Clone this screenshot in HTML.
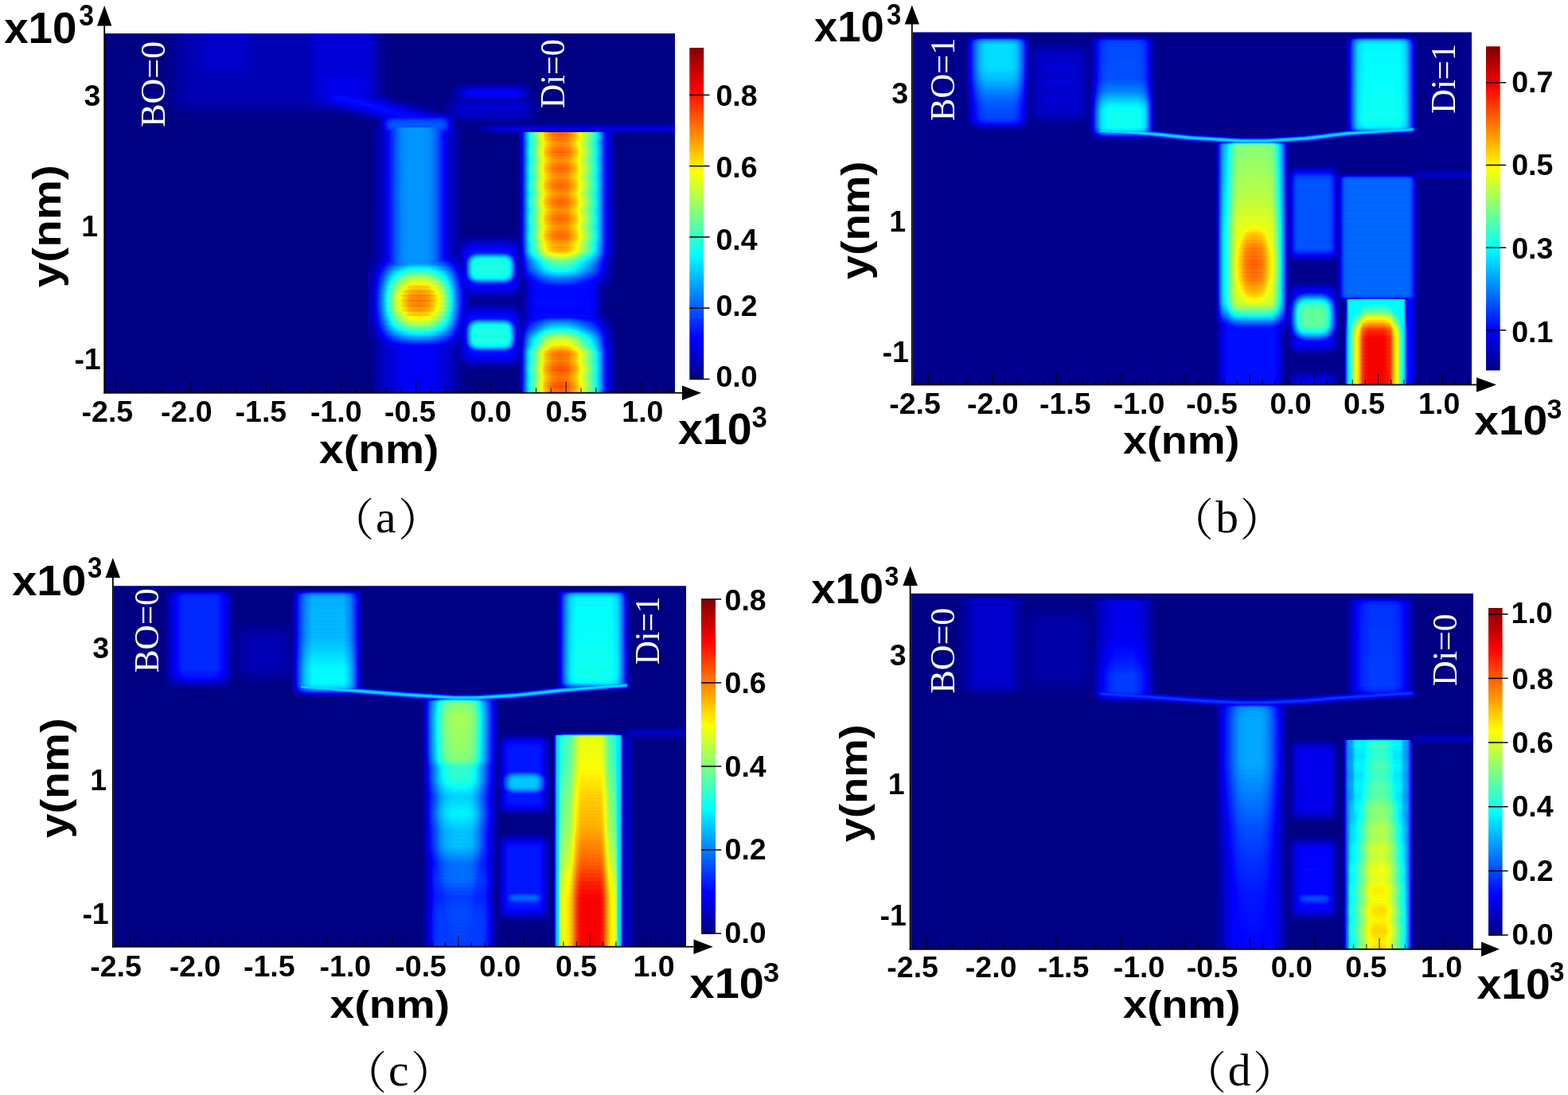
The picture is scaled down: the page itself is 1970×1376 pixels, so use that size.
<!DOCTYPE html>
<html lang="en">
<head>
<meta charset="utf-8">
<title>Field distributions (a)-(d)</title>
<style>
html,body{margin:0;padding:0;background:#fff;}
body{width:1970px;height:1376px;overflow:hidden;}
svg{display:block;}
text{white-space:pre;}
</style>
</head>
<body>
<svg width="1970" height="1376" viewBox="0 0 1970 1376" role="img" aria-label="Field distribution maps (a)-(d)">
<defs>
<filter id="jet" color-interpolation-filters="sRGB" filterUnits="userSpaceOnUse" x="0" y="0" width="1970" height="1376">
<feComponentTransfer>
<feFuncR type="table" tableValues="0 0 0 0 0.5 1 1 1 0.5"/>
<feFuncG type="table" tableValues="0 0 0.5 1 1 1 0.5 0 0"/>
<feFuncB type="table" tableValues="0.51 1 1 1 0.5 0 0 0 0"/>
</feComponentTransfer>
</filter>
<linearGradient id="cbar" x1="0" y1="1" x2="0" y2="0">
<stop offset="0" stop-color="#000082"/><stop offset="0.125" stop-color="#0000ff"/><stop offset="0.25" stop-color="#0080ff"/>
<stop offset="0.375" stop-color="#00ffff"/><stop offset="0.5" stop-color="#80ff80"/><stop offset="0.625" stop-color="#ffff00"/>
<stop offset="0.75" stop-color="#ff8000"/><stop offset="0.875" stop-color="#ff0000"/><stop offset="1" stop-color="#800000"/>
</linearGradient>
<filter id="b0" color-interpolation-filters="sRGB" filterUnits="userSpaceOnUse" x="62" y="-28" width="856" height="592"><feGaussianBlur stdDeviation="12 8"/></filter>
<filter id="b1" color-interpolation-filters="sRGB" filterUnits="userSpaceOnUse" x="62" y="-28" width="856" height="592"><feGaussianBlur stdDeviation="12 12"/></filter>
<filter id="b2" color-interpolation-filters="sRGB" filterUnits="userSpaceOnUse" x="62" y="-28" width="856" height="592"><feGaussianBlur stdDeviation="8 8"/></filter>
<filter id="b3" color-interpolation-filters="sRGB" filterUnits="userSpaceOnUse" x="62" y="-28" width="856" height="592"><feGaussianBlur stdDeviation="10 10"/></filter>
<filter id="b4" color-interpolation-filters="sRGB" filterUnits="userSpaceOnUse" x="62" y="-28" width="856" height="592"><feGaussianBlur stdDeviation="7 7"/></filter>
<filter id="b5" color-interpolation-filters="sRGB" filterUnits="userSpaceOnUse" x="62" y="-28" width="856" height="592"><feGaussianBlur stdDeviation="6 5"/></filter>
<filter id="b6" color-interpolation-filters="sRGB" filterUnits="userSpaceOnUse" x="62" y="-28" width="856" height="592"><feGaussianBlur stdDeviation="8 4"/></filter>
<filter id="b7" color-interpolation-filters="sRGB" filterUnits="userSpaceOnUse" x="62" y="-28" width="856" height="592"><feGaussianBlur stdDeviation="8 6"/></filter>
<filter id="b8" color-interpolation-filters="sRGB" filterUnits="userSpaceOnUse" x="62" y="-28" width="856" height="592"><feGaussianBlur stdDeviation="12 2.5"/></filter>
<filter id="b9" color-interpolation-filters="sRGB" filterUnits="userSpaceOnUse" x="62" y="-28" width="856" height="592"><feGaussianBlur stdDeviation="8 10"/></filter>
<clipPath id="c1"><rect x="132" y="160" width="716" height="334"/></clipPath>
<filter id="b10" color-interpolation-filters="sRGB" filterUnits="userSpaceOnUse" x="62" y="-28" width="856" height="592"><feGaussianBlur stdDeviation="11 8"/></filter>
<filter id="b11" color-interpolation-filters="sRGB" filterUnits="userSpaceOnUse" x="62" y="-28" width="856" height="592"><feGaussianBlur stdDeviation="9 6"/></filter>
<linearGradient id="gx1" gradientUnits="userSpaceOnUse" x1="464.5" y1="0" x2="588.5" y2="0"><stop offset="0.0000" stop-color="rgb(0,0,0)"/><stop offset="0.0484" stop-color="rgb(26,26,26)"/><stop offset="0.0968" stop-color="rgb(51,51,51)"/><stop offset="0.1371" stop-color="rgb(76,76,76)"/><stop offset="0.1935" stop-color="rgb(115,115,115)"/><stop offset="0.2500" stop-color="rgb(148,148,148)"/><stop offset="0.2903" stop-color="rgb(163,163,163)"/><stop offset="0.3306" stop-color="rgb(178,178,178)"/><stop offset="0.4032" stop-color="rgb(199,199,199)"/><stop offset="0.5000" stop-color="rgb(204,204,204)"/><stop offset="0.5968" stop-color="rgb(199,199,199)"/><stop offset="0.6694" stop-color="rgb(178,178,178)"/><stop offset="0.7097" stop-color="rgb(163,163,163)"/><stop offset="0.7500" stop-color="rgb(148,148,148)"/><stop offset="0.8065" stop-color="rgb(115,115,115)"/><stop offset="0.8629" stop-color="rgb(76,76,76)"/><stop offset="0.9032" stop-color="rgb(51,51,51)"/><stop offset="0.9516" stop-color="rgb(26,26,26)"/><stop offset="1.0000" stop-color="rgb(0,0,0)"/></linearGradient>
<linearGradient id="gy1" gradientUnits="userSpaceOnUse" x1="0" y1="313" x2="0" y2="443"><stop offset="0.0000" stop-color="rgb(0,0,0)"/><stop offset="0.0538" stop-color="rgb(31,31,31)"/><stop offset="0.1000" stop-color="rgb(64,64,64)"/><stop offset="0.1462" stop-color="rgb(96,96,96)"/><stop offset="0.2077" stop-color="rgb(140,140,140)"/><stop offset="0.2769" stop-color="rgb(185,185,185)"/><stop offset="0.3154" stop-color="rgb(204,204,204)"/><stop offset="0.3562" stop-color="rgb(223,223,223)"/><stop offset="0.4231" stop-color="rgb(247,247,247)"/><stop offset="0.5000" stop-color="rgb(255,255,255)"/><stop offset="0.5769" stop-color="rgb(247,247,247)"/><stop offset="0.6438" stop-color="rgb(223,223,223)"/><stop offset="0.6846" stop-color="rgb(204,204,204)"/><stop offset="0.7231" stop-color="rgb(185,185,185)"/><stop offset="0.7923" stop-color="rgb(140,140,140)"/><stop offset="0.8538" stop-color="rgb(96,96,96)"/><stop offset="0.9000" stop-color="rgb(64,64,64)"/><stop offset="0.9462" stop-color="rgb(31,31,31)"/><stop offset="1.0000" stop-color="rgb(0,0,0)"/></linearGradient>
<filter id="b12" color-interpolation-filters="sRGB" filterUnits="userSpaceOnUse" x="62" y="-28" width="856" height="592"><feGaussianBlur stdDeviation="1.5 1.5"/></filter>
<filter id="b13" color-interpolation-filters="sRGB" filterUnits="userSpaceOnUse" x="62" y="-28" width="856" height="592"><feGaussianBlur stdDeviation="4.5 4.5"/></filter>
<filter id="b14" color-interpolation-filters="sRGB" filterUnits="userSpaceOnUse" x="62" y="-28" width="856" height="592"><feGaussianBlur stdDeviation="6 6"/></filter>
<linearGradient id="gx2" gradientUnits="userSpaceOnUse" x1="652" y1="0" x2="775" y2="0"><stop offset="0.0000" stop-color="rgb(0,0,0)"/><stop offset="0.0325" stop-color="rgb(31,31,31)"/><stop offset="0.0650" stop-color="rgb(64,64,64)"/><stop offset="0.1016" stop-color="rgb(97,97,97)"/><stop offset="0.1626" stop-color="rgb(128,128,128)"/><stop offset="0.2276" stop-color="rgb(158,158,158)"/><stop offset="0.2602" stop-color="rgb(178,178,178)"/><stop offset="0.3415" stop-color="rgb(199,199,199)"/><stop offset="0.4268" stop-color="rgb(204,204,204)"/><stop offset="0.5122" stop-color="rgb(199,199,199)"/><stop offset="0.5894" stop-color="rgb(178,178,178)"/><stop offset="0.6382" stop-color="rgb(158,158,158)"/><stop offset="0.7154" stop-color="rgb(133,133,133)"/><stop offset="0.7764" stop-color="rgb(107,107,107)"/><stop offset="0.8374" stop-color="rgb(71,71,71)"/><stop offset="0.8780" stop-color="rgb(38,38,38)"/><stop offset="0.9512" stop-color="rgb(13,13,13)"/><stop offset="1.0000" stop-color="rgb(0,0,0)"/></linearGradient>
<linearGradient id="gy2" gradientUnits="userSpaceOnUse" x1="0" y1="120" x2="0" y2="378"><stop offset="0.0000" stop-color="rgb(255,255,255)"/><stop offset="0.6977" stop-color="rgb(255,255,255)"/><stop offset="0.7364" stop-color="rgb(247,247,247)"/><stop offset="0.7597" stop-color="rgb(232,232,232)"/><stop offset="0.7829" stop-color="rgb(200,200,200)"/><stop offset="0.8140" stop-color="rgb(161,161,161)"/><stop offset="0.8605" stop-color="rgb(122,122,122)"/><stop offset="0.8953" stop-color="rgb(82,82,82)"/><stop offset="0.9264" stop-color="rgb(48,48,48)"/><stop offset="0.9690" stop-color="rgb(15,15,15)"/><stop offset="1.0000" stop-color="rgb(0,0,0)"/></linearGradient>
<clipPath id="c2"><rect x="132" y="166" width="716" height="328"/></clipPath>
<linearGradient id="gx3" gradientUnits="userSpaceOnUse" x1="652" y1="0" x2="775" y2="0"><stop offset="0.0000" stop-color="rgb(0,0,0)"/><stop offset="0.0325" stop-color="rgb(32,32,32)"/><stop offset="0.0650" stop-color="rgb(66,66,66)"/><stop offset="0.1016" stop-color="rgb(100,100,100)"/><stop offset="0.1626" stop-color="rgb(131,131,131)"/><stop offset="0.2276" stop-color="rgb(163,163,163)"/><stop offset="0.2602" stop-color="rgb(184,184,184)"/><stop offset="0.3415" stop-color="rgb(205,205,205)"/><stop offset="0.4268" stop-color="rgb(210,210,210)"/><stop offset="0.5122" stop-color="rgb(205,205,205)"/><stop offset="0.5894" stop-color="rgb(184,184,184)"/><stop offset="0.6382" stop-color="rgb(163,163,163)"/><stop offset="0.7154" stop-color="rgb(137,137,137)"/><stop offset="0.7764" stop-color="rgb(110,110,110)"/><stop offset="0.8374" stop-color="rgb(74,74,74)"/><stop offset="0.8780" stop-color="rgb(39,39,39)"/><stop offset="0.9512" stop-color="rgb(13,13,13)"/><stop offset="1.0000" stop-color="rgb(0,0,0)"/></linearGradient>
<linearGradient id="gy3" gradientUnits="userSpaceOnUse" x1="0" y1="393" x2="0" y2="540"><stop offset="0.0000" stop-color="rgb(0,0,0)"/><stop offset="0.0680" stop-color="rgb(76,76,76)"/><stop offset="0.1293" stop-color="rgb(120,120,120)"/><stop offset="0.1837" stop-color="rgb(158,158,158)"/><stop offset="0.2313" stop-color="rgb(196,196,196)"/><stop offset="0.2993" stop-color="rgb(227,227,227)"/><stop offset="0.3537" stop-color="rgb(250,250,250)"/><stop offset="0.4014" stop-color="rgb(255,255,255)"/><stop offset="1.0000" stop-color="rgb(255,255,255)"/></linearGradient>
<linearGradient id="md4" gradientUnits="userSpaceOnUse" spreadMethod="repeat" x1="0" y1="170" x2="0" y2="191"><stop offset="0" stop-color="#000" stop-opacity="0"/><stop offset="0.5" stop-color="#000" stop-opacity="0.06"/><stop offset="1" stop-color="#000" stop-opacity="0"/></linearGradient>
<filter id="b15" color-interpolation-filters="sRGB" filterUnits="userSpaceOnUse" x="62" y="-28" width="856" height="592"><feGaussianBlur stdDeviation="0 1.5"/></filter>
<linearGradient id="md5" gradientUnits="userSpaceOnUse" spreadMethod="repeat" x1="0" y1="330" x2="0" y2="336"><stop offset="0" stop-color="#000" stop-opacity="0"/><stop offset="0.5" stop-color="#000" stop-opacity="0.05"/><stop offset="1" stop-color="#000" stop-opacity="0"/></linearGradient>
<clipPath id="c3"><rect x="132" y="42" width="716" height="452"/></clipPath>
<pattern id="st6" patternUnits="userSpaceOnUse" x="0" y="42" width="8" height="2.5"><rect x="0" y="0" width="8" height="1.25" fill="#000" fill-opacity="0.045"/></pattern>
<linearGradient id="gx7" gradientUnits="userSpaceOnUse" x1="1213" y1="0" x2="1295" y2="0"><stop offset="0.0000" stop-color="rgb(0,0,0)"/><stop offset="0.0610" stop-color="rgb(26,26,26)"/><stop offset="0.1341" stop-color="rgb(56,56,56)"/><stop offset="0.2317" stop-color="rgb(82,82,82)"/><stop offset="0.3293" stop-color="rgb(89,89,89)"/><stop offset="0.6951" stop-color="rgb(89,89,89)"/><stop offset="0.7927" stop-color="rgb(82,82,82)"/><stop offset="0.8780" stop-color="rgb(56,56,56)"/><stop offset="0.9390" stop-color="rgb(26,26,26)"/><stop offset="1.0000" stop-color="rgb(0,0,0)"/></linearGradient>
<linearGradient id="gy7" gradientUnits="userSpaceOnUse" x1="0" y1="46" x2="0" y2="164"><stop offset="0.0000" stop-color="rgb(0,0,0)"/><stop offset="0.0339" stop-color="rgb(204,204,204)"/><stop offset="0.0847" stop-color="rgb(255,255,255)"/><stop offset="0.3305" stop-color="rgb(255,255,255)"/><stop offset="0.4576" stop-color="rgb(230,230,230)"/><stop offset="0.5847" stop-color="rgb(191,191,191)"/><stop offset="0.7119" stop-color="rgb(158,158,158)"/><stop offset="0.8814" stop-color="rgb(140,140,140)"/><stop offset="0.9322" stop-color="rgb(102,102,102)"/><stop offset="0.9661" stop-color="rgb(38,38,38)"/><stop offset="1.0000" stop-color="rgb(0,0,0)"/></linearGradient>
<filter id="b16" color-interpolation-filters="sRGB" filterUnits="userSpaceOnUse" x="1076.8" y="-29.6" width="842.2" height="583.1"><feGaussianBlur stdDeviation="1.5 1.5"/></filter>
<filter id="b17" color-interpolation-filters="sRGB" filterUnits="userSpaceOnUse" x="1076.8" y="-29.6" width="842.2" height="583.1"><feGaussianBlur stdDeviation="8 8"/></filter>
<filter id="b18" color-interpolation-filters="sRGB" filterUnits="userSpaceOnUse" x="1076.8" y="-29.6" width="842.2" height="583.1"><feGaussianBlur stdDeviation="6 2.5"/></filter>
<linearGradient id="gx8" gradientUnits="userSpaceOnUse" x1="1368" y1="0" x2="1452" y2="0"><stop offset="0.0000" stop-color="rgb(0,0,0)"/><stop offset="0.0595" stop-color="rgb(26,26,26)"/><stop offset="0.1190" stop-color="rgb(64,64,64)"/><stop offset="0.1905" stop-color="rgb(92,92,92)"/><stop offset="0.2857" stop-color="rgb(102,102,102)"/><stop offset="0.7381" stop-color="rgb(102,102,102)"/><stop offset="0.8333" stop-color="rgb(92,92,92)"/><stop offset="0.8929" stop-color="rgb(64,64,64)"/><stop offset="0.9405" stop-color="rgb(26,26,26)"/><stop offset="1.0000" stop-color="rgb(0,0,0)"/></linearGradient>
<linearGradient id="gy8" gradientUnits="userSpaceOnUse" x1="0" y1="46" x2="0" y2="175"><stop offset="0.0000" stop-color="rgb(0,0,0)"/><stop offset="0.0310" stop-color="rgb(115,115,115)"/><stop offset="0.0775" stop-color="rgb(128,128,128)"/><stop offset="0.4186" stop-color="rgb(133,133,133)"/><stop offset="0.5349" stop-color="rgb(166,166,166)"/><stop offset="0.6512" stop-color="rgb(230,230,230)"/><stop offset="0.7287" stop-color="rgb(255,255,255)"/><stop offset="0.8837" stop-color="rgb(255,255,255)"/><stop offset="0.9302" stop-color="rgb(204,204,204)"/><stop offset="0.9612" stop-color="rgb(102,102,102)"/><stop offset="1.0000" stop-color="rgb(0,0,0)"/></linearGradient>
<filter id="b19" color-interpolation-filters="sRGB" filterUnits="userSpaceOnUse" x="1076.8" y="-29.6" width="842.2" height="583.1"><feGaussianBlur stdDeviation="1.8 1.8"/></filter>
<linearGradient id="gx9" gradientUnits="userSpaceOnUse" x1="1690" y1="0" x2="1781" y2="0"><stop offset="0.0000" stop-color="rgb(0,0,0)"/><stop offset="0.0549" stop-color="rgb(26,26,26)"/><stop offset="0.1099" stop-color="rgb(64,64,64)"/><stop offset="0.1758" stop-color="rgb(92,92,92)"/><stop offset="0.2637" stop-color="rgb(102,102,102)"/><stop offset="0.7473" stop-color="rgb(102,102,102)"/><stop offset="0.8352" stop-color="rgb(92,92,92)"/><stop offset="0.8901" stop-color="rgb(64,64,64)"/><stop offset="0.9451" stop-color="rgb(26,26,26)"/><stop offset="1.0000" stop-color="rgb(0,0,0)"/></linearGradient>
<linearGradient id="gy9" gradientUnits="userSpaceOnUse" x1="0" y1="46" x2="0" y2="169"><stop offset="0.0000" stop-color="rgb(0,0,0)"/><stop offset="0.0325" stop-color="rgb(204,204,204)"/><stop offset="0.0813" stop-color="rgb(242,242,242)"/><stop offset="0.8455" stop-color="rgb(255,255,255)"/><stop offset="0.9268" stop-color="rgb(242,242,242)"/><stop offset="0.9675" stop-color="rgb(153,153,153)"/><stop offset="1.0000" stop-color="rgb(0,0,0)"/></linearGradient>
<filter id="b20" color-interpolation-filters="sRGB" filterUnits="userSpaceOnUse" x="1076.8" y="-29.6" width="842.2" height="583.1"><feGaussianBlur stdDeviation="5 5"/></filter>
<linearGradient id="gx10" gradientUnits="userSpaceOnUse" x1="1527" y1="0" x2="1620" y2="0"><stop offset="0.0000" stop-color="rgb(0,0,0)"/><stop offset="0.0430" stop-color="rgb(38,38,38)"/><stop offset="0.0860" stop-color="rgb(84,84,84)"/><stop offset="0.1505" stop-color="rgb(102,102,102)"/><stop offset="0.2043" stop-color="rgb(128,128,128)"/><stop offset="0.2688" stop-color="rgb(153,153,153)"/><stop offset="0.3548" stop-color="rgb(158,158,158)"/><stop offset="0.6882" stop-color="rgb(158,158,158)"/><stop offset="0.7742" stop-color="rgb(153,153,153)"/><stop offset="0.8280" stop-color="rgb(128,128,128)"/><stop offset="0.8710" stop-color="rgb(102,102,102)"/><stop offset="0.9140" stop-color="rgb(76,76,76)"/><stop offset="0.9570" stop-color="rgb(33,33,33)"/><stop offset="1.0000" stop-color="rgb(0,0,0)"/></linearGradient>
<linearGradient id="gy10" gradientUnits="userSpaceOnUse" x1="0" y1="178.5" x2="0" y2="425"><stop offset="0.0000" stop-color="rgb(0,0,0)"/><stop offset="0.0081" stop-color="rgb(214,214,214)"/><stop offset="0.0872" stop-color="rgb(219,219,219)"/><stop offset="0.2901" stop-color="rgb(235,235,235)"/><stop offset="0.4523" stop-color="rgb(255,255,255)"/><stop offset="0.7769" stop-color="rgb(255,255,255)"/><stop offset="0.8256" stop-color="rgb(242,242,242)"/><stop offset="0.8580" stop-color="rgb(204,204,204)"/><stop offset="0.8905" stop-color="rgb(153,153,153)"/><stop offset="0.9229" stop-color="rgb(89,89,89)"/><stop offset="0.9554" stop-color="rgb(51,51,51)"/><stop offset="1.0000" stop-color="rgb(0,0,0)"/></linearGradient>
<linearGradient id="gx11" gradientUnits="userSpaceOnUse" x1="1533.6" y1="0" x2="1617.6" y2="0"><stop offset="0.0000" stop-color="rgb(0,0,0)"/><stop offset="0.0714" stop-color="rgb(76,76,76)"/><stop offset="0.1429" stop-color="rgb(128,128,128)"/><stop offset="0.2143" stop-color="rgb(158,158,158)"/><stop offset="0.2917" stop-color="rgb(178,178,178)"/><stop offset="0.3810" stop-color="rgb(199,199,199)"/><stop offset="0.5000" stop-color="rgb(204,204,204)"/><stop offset="0.6190" stop-color="rgb(199,199,199)"/><stop offset="0.7083" stop-color="rgb(178,178,178)"/><stop offset="0.7857" stop-color="rgb(158,158,158)"/><stop offset="0.8571" stop-color="rgb(128,128,128)"/><stop offset="0.9286" stop-color="rgb(76,76,76)"/><stop offset="1.0000" stop-color="rgb(0,0,0)"/></linearGradient>
<linearGradient id="gy11" gradientUnits="userSpaceOnUse" x1="0" y1="252" x2="0" y2="412"><stop offset="0.0000" stop-color="rgb(0,0,0)"/><stop offset="0.0750" stop-color="rgb(102,102,102)"/><stop offset="0.1375" stop-color="rgb(153,153,153)"/><stop offset="0.2000" stop-color="rgb(199,199,199)"/><stop offset="0.2687" stop-color="rgb(223,223,223)"/><stop offset="0.3750" stop-color="rgb(247,247,247)"/><stop offset="0.5000" stop-color="rgb(255,255,255)"/><stop offset="0.6250" stop-color="rgb(247,247,247)"/><stop offset="0.7312" stop-color="rgb(223,223,223)"/><stop offset="0.8000" stop-color="rgb(199,199,199)"/><stop offset="0.8625" stop-color="rgb(153,153,153)"/><stop offset="0.9250" stop-color="rgb(102,102,102)"/><stop offset="1.0000" stop-color="rgb(0,0,0)"/></linearGradient>
<filter id="b21" color-interpolation-filters="sRGB" filterUnits="userSpaceOnUse" x="1076.8" y="-29.6" width="842.2" height="583.1"><feGaussianBlur stdDeviation="4 6"/></filter>
<filter id="b22" color-interpolation-filters="sRGB" filterUnits="userSpaceOnUse" x="1076.8" y="-29.6" width="842.2" height="583.1"><feGaussianBlur stdDeviation="6 8"/></filter>
<filter id="b23" color-interpolation-filters="sRGB" filterUnits="userSpaceOnUse" x="1076.8" y="-29.6" width="842.2" height="583.1"><feGaussianBlur stdDeviation="3.5 2"/></filter>
<filter id="b24" color-interpolation-filters="sRGB" filterUnits="userSpaceOnUse" x="1076.8" y="-29.6" width="842.2" height="583.1"><feGaussianBlur stdDeviation="2.5 2.5"/></filter>
<filter id="b25" color-interpolation-filters="sRGB" filterUnits="userSpaceOnUse" x="1076.8" y="-29.6" width="842.2" height="583.1"><feGaussianBlur stdDeviation="8 3"/></filter>
<clipPath id="c4"><rect x="1147" y="376" width="702" height="107.5"/></clipPath>
<linearGradient id="gx12" gradientUnits="userSpaceOnUse" x1="1689" y1="0" x2="1769" y2="0"><stop offset="0.0000" stop-color="rgb(0,0,0)"/><stop offset="0.0375" stop-color="rgb(76,76,76)"/><stop offset="0.1000" stop-color="rgb(97,97,97)"/><stop offset="0.1250" stop-color="rgb(140,140,140)"/><stop offset="0.1750" stop-color="rgb(158,158,158)"/><stop offset="0.2500" stop-color="rgb(184,184,184)"/><stop offset="0.2812" stop-color="rgb(217,217,217)"/><stop offset="0.3875" stop-color="rgb(230,230,230)"/><stop offset="0.6125" stop-color="rgb(230,230,230)"/><stop offset="0.7250" stop-color="rgb(217,217,217)"/><stop offset="0.7625" stop-color="rgb(184,184,184)"/><stop offset="0.8375" stop-color="rgb(158,158,158)"/><stop offset="0.9000" stop-color="rgb(107,107,107)"/><stop offset="0.9625" stop-color="rgb(76,76,76)"/><stop offset="1.0000" stop-color="rgb(0,0,0)"/></linearGradient>
<linearGradient id="gy12" gradientUnits="userSpaceOnUse" x1="0" y1="375.5" x2="0" y2="500"><stop offset="0.0000" stop-color="rgb(0,0,0)"/><stop offset="0.0080" stop-color="rgb(99,99,99)"/><stop offset="0.0257" stop-color="rgb(99,99,99)"/><stop offset="0.1285" stop-color="rgb(135,135,135)"/><stop offset="0.1807" stop-color="rgb(171,171,171)"/><stop offset="0.2450" stop-color="rgb(204,204,204)"/><stop offset="0.3092" stop-color="rgb(240,240,240)"/><stop offset="0.3976" stop-color="rgb(255,255,255)"/><stop offset="1.0000" stop-color="rgb(255,255,255)"/></linearGradient>
<filter id="b26" color-interpolation-filters="sRGB" filterUnits="userSpaceOnUse" x="1076.8" y="-29.6" width="842.2" height="583.1"><feGaussianBlur stdDeviation="1.2 1.2"/></filter>
<clipPath id="c5"><rect x="1146.8" y="40.4" width="702.2" height="443.1"/></clipPath>
<pattern id="st13" patternUnits="userSpaceOnUse" x="0" y="40.4" width="8" height="2.5"><rect x="0" y="0" width="8" height="1.25" fill="#000" fill-opacity="0.045"/></pattern>
<linearGradient id="gx14" gradientUnits="userSpaceOnUse" x1="206" y1="0" x2="295" y2="0"><stop offset="0.0000" stop-color="rgb(0,0,0)"/><stop offset="0.0674" stop-color="rgb(15,15,15)"/><stop offset="0.1573" stop-color="rgb(31,31,31)"/><stop offset="0.2697" stop-color="rgb(43,43,43)"/><stop offset="0.7416" stop-color="rgb(43,43,43)"/><stop offset="0.8539" stop-color="rgb(31,31,31)"/><stop offset="0.9326" stop-color="rgb(15,15,15)"/><stop offset="1.0000" stop-color="rgb(0,0,0)"/></linearGradient>
<linearGradient id="gy14" gradientUnits="userSpaceOnUse" x1="0" y1="742" x2="0" y2="866"><stop offset="0.0000" stop-color="rgb(0,0,0)"/><stop offset="0.0323" stop-color="rgb(230,230,230)"/><stop offset="0.0806" stop-color="rgb(255,255,255)"/><stop offset="0.7903" stop-color="rgb(255,255,255)"/><stop offset="0.8871" stop-color="rgb(204,204,204)"/><stop offset="0.9516" stop-color="rgb(76,76,76)"/><stop offset="1.0000" stop-color="rgb(0,0,0)"/></linearGradient>
<filter id="b27" color-interpolation-filters="sRGB" filterUnits="userSpaceOnUse" x="72.6" y="666.3" width="859.4" height="593.7"><feGaussianBlur stdDeviation="1.5 1.5"/></filter>
<filter id="b28" color-interpolation-filters="sRGB" filterUnits="userSpaceOnUse" x="72.6" y="666.3" width="859.4" height="593.7"><feGaussianBlur stdDeviation="8 8"/></filter>
<linearGradient id="gx15" gradientUnits="userSpaceOnUse" x1="366" y1="0" x2="456" y2="0"><stop offset="0.0000" stop-color="rgb(0,0,0)"/><stop offset="0.0556" stop-color="rgb(26,26,26)"/><stop offset="0.1111" stop-color="rgb(56,56,56)"/><stop offset="0.1889" stop-color="rgb(82,82,82)"/><stop offset="0.2889" stop-color="rgb(97,97,97)"/><stop offset="0.7333" stop-color="rgb(97,97,97)"/><stop offset="0.8222" stop-color="rgb(82,82,82)"/><stop offset="0.8889" stop-color="rgb(56,56,56)"/><stop offset="0.9444" stop-color="rgb(26,26,26)"/><stop offset="1.0000" stop-color="rgb(0,0,0)"/></linearGradient>
<linearGradient id="gy15" gradientUnits="userSpaceOnUse" x1="0" y1="742" x2="0" y2="875"><stop offset="0.0000" stop-color="rgb(0,0,0)"/><stop offset="0.0301" stop-color="rgb(178,178,178)"/><stop offset="0.0752" stop-color="rgb(204,204,204)"/><stop offset="0.4361" stop-color="rgb(209,209,209)"/><stop offset="0.5865" stop-color="rgb(230,230,230)"/><stop offset="0.7368" stop-color="rgb(255,255,255)"/><stop offset="0.8872" stop-color="rgb(255,255,255)"/><stop offset="0.9323" stop-color="rgb(204,204,204)"/><stop offset="0.9624" stop-color="rgb(102,102,102)"/><stop offset="1.0000" stop-color="rgb(0,0,0)"/></linearGradient>
<filter id="b29" color-interpolation-filters="sRGB" filterUnits="userSpaceOnUse" x="72.6" y="666.3" width="859.4" height="593.7"><feGaussianBlur stdDeviation="1.8 1.8"/></filter>
<linearGradient id="gx16" gradientUnits="userSpaceOnUse" x1="699" y1="0" x2="792" y2="0"><stop offset="0.0000" stop-color="rgb(0,0,0)"/><stop offset="0.0538" stop-color="rgb(26,26,26)"/><stop offset="0.1075" stop-color="rgb(64,64,64)"/><stop offset="0.1828" stop-color="rgb(92,92,92)"/><stop offset="0.2688" stop-color="rgb(102,102,102)"/><stop offset="0.7419" stop-color="rgb(102,102,102)"/><stop offset="0.8280" stop-color="rgb(92,92,92)"/><stop offset="0.8925" stop-color="rgb(64,64,64)"/><stop offset="0.9462" stop-color="rgb(26,26,26)"/><stop offset="1.0000" stop-color="rgb(0,0,0)"/></linearGradient>
<linearGradient id="gy16" gradientUnits="userSpaceOnUse" x1="0" y1="742" x2="0" y2="867"><stop offset="0.0000" stop-color="rgb(0,0,0)"/><stop offset="0.0320" stop-color="rgb(204,204,204)"/><stop offset="0.0800" stop-color="rgb(242,242,242)"/><stop offset="0.8640" stop-color="rgb(255,255,255)"/><stop offset="0.9280" stop-color="rgb(242,242,242)"/><stop offset="0.9680" stop-color="rgb(153,153,153)"/><stop offset="1.0000" stop-color="rgb(0,0,0)"/></linearGradient>
<filter id="b30" color-interpolation-filters="sRGB" filterUnits="userSpaceOnUse" x="72.6" y="666.3" width="859.4" height="593.7"><feGaussianBlur stdDeviation="6 6"/></filter>
<clipPath id="c6"><rect x="142" y="879" width="720" height="310.5"/></clipPath>
<linearGradient id="gx17" gradientUnits="userSpaceOnUse" x1="531" y1="0" x2="628" y2="0"><stop offset="0.0000" stop-color="rgb(0,0,0)"/><stop offset="0.0515" stop-color="rgb(31,31,31)"/><stop offset="0.1031" stop-color="rgb(64,64,64)"/><stop offset="0.1649" stop-color="rgb(89,89,89)"/><stop offset="0.2268" stop-color="rgb(115,115,115)"/><stop offset="0.2990" stop-color="rgb(133,133,133)"/><stop offset="0.4021" stop-color="rgb(140,140,140)"/><stop offset="0.5567" stop-color="rgb(140,140,140)"/><stop offset="0.6495" stop-color="rgb(133,133,133)"/><stop offset="0.7113" stop-color="rgb(115,115,115)"/><stop offset="0.7732" stop-color="rgb(89,89,89)"/><stop offset="0.8351" stop-color="rgb(64,64,64)"/><stop offset="0.8969" stop-color="rgb(38,38,38)"/><stop offset="0.9588" stop-color="rgb(13,13,13)"/><stop offset="1.0000" stop-color="rgb(0,0,0)"/></linearGradient>
<linearGradient id="gy17" gradientUnits="userSpaceOnUse" x1="0" y1="878" x2="0" y2="1200"><stop offset="0.0000" stop-color="rgb(0,0,0)"/><stop offset="0.0062" stop-color="rgb(230,230,230)"/><stop offset="0.0683" stop-color="rgb(255,255,255)"/><stop offset="0.2236" stop-color="rgb(242,242,242)"/><stop offset="0.3012" stop-color="rgb(204,204,204)"/><stop offset="0.3789" stop-color="rgb(178,178,178)"/><stop offset="0.5031" stop-color="rgb(173,173,173)"/><stop offset="0.5652" stop-color="rgb(153,153,153)"/><stop offset="0.6584" stop-color="rgb(122,122,122)"/><stop offset="0.7516" stop-color="rgb(102,102,102)"/><stop offset="0.8758" stop-color="rgb(92,92,92)"/><stop offset="1.0000" stop-color="rgb(87,87,87)"/></linearGradient>
<filter id="b31" color-interpolation-filters="sRGB" filterUnits="userSpaceOnUse" x="72.6" y="666.3" width="859.4" height="593.7"><feGaussianBlur stdDeviation="4 5"/></filter>
<filter id="b32" color-interpolation-filters="sRGB" filterUnits="userSpaceOnUse" x="72.6" y="666.3" width="859.4" height="593.7"><feGaussianBlur stdDeviation="6 5"/></filter>
<filter id="b33" color-interpolation-filters="sRGB" filterUnits="userSpaceOnUse" x="72.6" y="666.3" width="859.4" height="593.7"><feGaussianBlur stdDeviation="4 6"/></filter>
<filter id="b34" color-interpolation-filters="sRGB" filterUnits="userSpaceOnUse" x="72.6" y="666.3" width="859.4" height="593.7"><feGaussianBlur stdDeviation="6 4"/></filter>
<filter id="b35" color-interpolation-filters="sRGB" filterUnits="userSpaceOnUse" x="72.6" y="666.3" width="859.4" height="593.7"><feGaussianBlur stdDeviation="8 3"/></filter>
<clipPath id="c7"><rect x="142" y="923.5" width="720" height="266"/></clipPath>
<filter id="b36" color-interpolation-filters="sRGB" filterUnits="userSpaceOnUse" x="72.6" y="666.3" width="859.4" height="593.7"><feGaussianBlur stdDeviation="3 3"/></filter>
<linearGradient id="gx18" gradientUnits="userSpaceOnUse" x1="700" y1="0" x2="778" y2="0"><stop offset="0.0000" stop-color="rgb(0,0,0)"/><stop offset="0.0256" stop-color="rgb(128,128,128)"/><stop offset="0.0577" stop-color="rgb(158,158,158)"/><stop offset="0.2051" stop-color="rgb(173,173,173)"/><stop offset="0.2564" stop-color="rgb(191,191,191)"/><stop offset="0.3205" stop-color="rgb(217,217,217)"/><stop offset="0.3846" stop-color="rgb(230,230,230)"/><stop offset="0.6795" stop-color="rgb(230,230,230)"/><stop offset="0.7538" stop-color="rgb(217,217,217)"/><stop offset="0.7949" stop-color="rgb(191,191,191)"/><stop offset="0.8333" stop-color="rgb(173,173,173)"/><stop offset="0.9359" stop-color="rgb(158,158,158)"/><stop offset="0.9744" stop-color="rgb(128,128,128)"/><stop offset="1.0000" stop-color="rgb(0,0,0)"/></linearGradient>
<linearGradient id="gy18" gradientUnits="userSpaceOnUse" x1="0" y1="923" x2="0" y2="1200"><stop offset="0.0000" stop-color="rgb(0,0,0)"/><stop offset="0.0036" stop-color="rgb(173,173,173)"/><stop offset="0.1336" stop-color="rgb(178,178,178)"/><stop offset="0.2780" stop-color="rgb(194,194,194)"/><stop offset="0.4224" stop-color="rgb(204,204,204)"/><stop offset="0.5668" stop-color="rgb(224,224,224)"/><stop offset="0.6751" stop-color="rgb(245,245,245)"/><stop offset="0.7473" stop-color="rgb(255,255,255)"/><stop offset="1.0000" stop-color="rgb(255,255,255)"/></linearGradient>
<filter id="b37" color-interpolation-filters="sRGB" filterUnits="userSpaceOnUse" x="72.6" y="666.3" width="859.4" height="593.7"><feGaussianBlur stdDeviation="1.2 1.2"/></filter>
<linearGradient id="md19" gradientUnits="userSpaceOnUse" spreadMethod="repeat" x1="0" y1="980" x2="0" y2="1022"><stop offset="0" stop-color="#000" stop-opacity="0"/><stop offset="0.5" stop-color="#000" stop-opacity="0.12"/><stop offset="1" stop-color="#000" stop-opacity="0"/></linearGradient>
<filter id="b38" color-interpolation-filters="sRGB" filterUnits="userSpaceOnUse" x="72.6" y="666.3" width="859.4" height="593.7"><feGaussianBlur stdDeviation="0 2"/></filter>
<clipPath id="c8"><rect x="142.6" y="736.3" width="719.4" height="453.7"/></clipPath>
<pattern id="st20" patternUnits="userSpaceOnUse" x="0" y="736.3" width="8" height="2.5"><rect x="0" y="0" width="8" height="1.25" fill="#000" fill-opacity="0.045"/></pattern>
<filter id="b39" color-interpolation-filters="sRGB" filterUnits="userSpaceOnUse" x="1074.4" y="675.7" width="846.6" height="587.1"><feGaussianBlur stdDeviation="9 5"/></filter>
<clipPath id="c9"><rect x="1144" y="752" width="707" height="441"/></clipPath>
<filter id="b40" color-interpolation-filters="sRGB" filterUnits="userSpaceOnUse" x="1074.4" y="675.7" width="846.6" height="587.1"><feGaussianBlur stdDeviation="10 10"/></filter>
<linearGradient id="gx21" gradientUnits="userSpaceOnUse" x1="1369" y1="0" x2="1454" y2="0"><stop offset="0.0000" stop-color="rgb(0,0,0)"/><stop offset="0.0706" stop-color="rgb(10,10,10)"/><stop offset="0.1529" stop-color="rgb(26,26,26)"/><stop offset="0.2706" stop-color="rgb(41,41,41)"/><stop offset="0.3882" stop-color="rgb(48,48,48)"/><stop offset="0.6471" stop-color="rgb(48,48,48)"/><stop offset="0.7647" stop-color="rgb(41,41,41)"/><stop offset="0.8588" stop-color="rgb(26,26,26)"/><stop offset="0.9294" stop-color="rgb(10,10,10)"/><stop offset="1.0000" stop-color="rgb(0,0,0)"/></linearGradient>
<linearGradient id="gy21" gradientUnits="userSpaceOnUse" x1="0" y1="751" x2="0" y2="884"><stop offset="0.0000" stop-color="rgb(0,0,0)"/><stop offset="0.0301" stop-color="rgb(140,140,140)"/><stop offset="0.3684" stop-color="rgb(153,153,153)"/><stop offset="0.5940" stop-color="rgb(204,204,204)"/><stop offset="0.7444" stop-color="rgb(255,255,255)"/><stop offset="0.8797" stop-color="rgb(255,255,255)"/><stop offset="0.9248" stop-color="rgb(204,204,204)"/><stop offset="0.9624" stop-color="rgb(102,102,102)"/><stop offset="1.0000" stop-color="rgb(0,0,0)"/></linearGradient>
<filter id="b41" color-interpolation-filters="sRGB" filterUnits="userSpaceOnUse" x="1074.4" y="675.7" width="846.6" height="587.1"><feGaussianBlur stdDeviation="1.5 1.5"/></filter>
<filter id="b42" color-interpolation-filters="sRGB" filterUnits="userSpaceOnUse" x="1074.4" y="675.7" width="846.6" height="587.1"><feGaussianBlur stdDeviation="2 2"/></filter>
<linearGradient id="gx22" gradientUnits="userSpaceOnUse" x1="1690" y1="0" x2="1778" y2="0"><stop offset="0.0000" stop-color="rgb(0,0,0)"/><stop offset="0.0682" stop-color="rgb(13,13,13)"/><stop offset="0.1477" stop-color="rgb(31,31,31)"/><stop offset="0.2500" stop-color="rgb(43,43,43)"/><stop offset="0.3636" stop-color="rgb(48,48,48)"/><stop offset="0.6591" stop-color="rgb(48,48,48)"/><stop offset="0.7727" stop-color="rgb(43,43,43)"/><stop offset="0.8636" stop-color="rgb(31,31,31)"/><stop offset="0.9318" stop-color="rgb(13,13,13)"/><stop offset="1.0000" stop-color="rgb(0,0,0)"/></linearGradient>
<linearGradient id="gy22" gradientUnits="userSpaceOnUse" x1="0" y1="751" x2="0" y2="877"><stop offset="0.0000" stop-color="rgb(0,0,0)"/><stop offset="0.0317" stop-color="rgb(204,204,204)"/><stop offset="0.0873" stop-color="rgb(242,242,242)"/><stop offset="0.8651" stop-color="rgb(255,255,255)"/><stop offset="0.9286" stop-color="rgb(230,230,230)"/><stop offset="0.9683" stop-color="rgb(128,128,128)"/><stop offset="1.0000" stop-color="rgb(0,0,0)"/></linearGradient>
<filter id="b43" color-interpolation-filters="sRGB" filterUnits="userSpaceOnUse" x="1074.4" y="675.7" width="846.6" height="587.1"><feGaussianBlur stdDeviation="7 6"/></filter>
<clipPath id="c10"><rect x="1144" y="886" width="707" height="307"/></clipPath>
<linearGradient id="gx23" gradientUnits="userSpaceOnUse" x1="1527" y1="0" x2="1617" y2="0"><stop offset="0.0000" stop-color="rgb(0,0,0)"/><stop offset="0.0667" stop-color="rgb(20,20,20)"/><stop offset="0.1444" stop-color="rgb(38,38,38)"/><stop offset="0.2333" stop-color="rgb(56,56,56)"/><stop offset="0.3222" stop-color="rgb(71,71,71)"/><stop offset="0.4222" stop-color="rgb(76,76,76)"/><stop offset="0.6111" stop-color="rgb(76,76,76)"/><stop offset="0.7000" stop-color="rgb(71,71,71)"/><stop offset="0.7889" stop-color="rgb(56,56,56)"/><stop offset="0.8667" stop-color="rgb(38,38,38)"/><stop offset="0.9333" stop-color="rgb(20,20,20)"/><stop offset="1.0000" stop-color="rgb(0,0,0)"/></linearGradient>
<linearGradient id="gy23" gradientUnits="userSpaceOnUse" x1="0" y1="885" x2="0" y2="1200"><stop offset="0.0000" stop-color="rgb(0,0,0)"/><stop offset="0.0063" stop-color="rgb(230,230,230)"/><stop offset="0.0476" stop-color="rgb(255,255,255)"/><stop offset="0.2381" stop-color="rgb(255,255,255)"/><stop offset="0.3651" stop-color="rgb(217,217,217)"/><stop offset="0.4921" stop-color="rgb(178,178,178)"/><stop offset="0.6190" stop-color="rgb(153,153,153)"/><stop offset="0.7460" stop-color="rgb(128,128,128)"/><stop offset="1.0000" stop-color="rgb(107,107,107)"/></linearGradient>
<filter id="b44" color-interpolation-filters="sRGB" filterUnits="userSpaceOnUse" x="1074.4" y="675.7" width="846.6" height="587.1"><feGaussianBlur stdDeviation="4 5"/></filter>
<filter id="b45" color-interpolation-filters="sRGB" filterUnits="userSpaceOnUse" x="1074.4" y="675.7" width="846.6" height="587.1"><feGaussianBlur stdDeviation="4 6"/></filter>
<filter id="b46" color-interpolation-filters="sRGB" filterUnits="userSpaceOnUse" x="1074.4" y="675.7" width="846.6" height="587.1"><feGaussianBlur stdDeviation="6 4"/></filter>
<filter id="b47" color-interpolation-filters="sRGB" filterUnits="userSpaceOnUse" x="1074.4" y="675.7" width="846.6" height="587.1"><feGaussianBlur stdDeviation="6 3"/></filter>
<filter id="b48" color-interpolation-filters="sRGB" filterUnits="userSpaceOnUse" x="1074.4" y="675.7" width="846.6" height="587.1"><feGaussianBlur stdDeviation="8 3"/></filter>
<clipPath id="c11"><rect x="1144" y="930" width="707" height="263"/></clipPath>
<filter id="b49" color-interpolation-filters="sRGB" filterUnits="userSpaceOnUse" x="1074.4" y="675.7" width="846.6" height="587.1"><feGaussianBlur stdDeviation="3 3"/></filter>
<linearGradient id="gx24" gradientUnits="userSpaceOnUse" x1="1692" y1="0" x2="1773" y2="0"><stop offset="0.0000" stop-color="rgb(0,0,0)"/><stop offset="0.0247" stop-color="rgb(97,97,97)"/><stop offset="0.0617" stop-color="rgb(107,107,107)"/><stop offset="0.1358" stop-color="rgb(115,115,115)"/><stop offset="0.2099" stop-color="rgb(133,133,133)"/><stop offset="0.2840" stop-color="rgb(153,153,153)"/><stop offset="0.3457" stop-color="rgb(168,168,168)"/><stop offset="0.4198" stop-color="rgb(176,176,176)"/><stop offset="0.5926" stop-color="rgb(176,176,176)"/><stop offset="0.6543" stop-color="rgb(168,168,168)"/><stop offset="0.7160" stop-color="rgb(153,153,153)"/><stop offset="0.7778" stop-color="rgb(135,135,135)"/><stop offset="0.8272" stop-color="rgb(120,120,120)"/><stop offset="0.8765" stop-color="rgb(107,107,107)"/><stop offset="0.9136" stop-color="rgb(97,97,97)"/><stop offset="0.9506" stop-color="rgb(64,64,64)"/><stop offset="1.0000" stop-color="rgb(0,0,0)"/></linearGradient>
<linearGradient id="gy24" gradientUnits="userSpaceOnUse" x1="0" y1="929" x2="0" y2="1200"><stop offset="0.0000" stop-color="rgb(0,0,0)"/><stop offset="0.0037" stop-color="rgb(163,163,163)"/><stop offset="0.2251" stop-color="rgb(176,176,176)"/><stop offset="0.3358" stop-color="rgb(201,201,201)"/><stop offset="0.4834" stop-color="rgb(222,222,222)"/><stop offset="0.5941" stop-color="rgb(235,235,235)"/><stop offset="0.7417" stop-color="rgb(250,250,250)"/><stop offset="0.8524" stop-color="rgb(255,255,255)"/><stop offset="1.0000" stop-color="rgb(255,255,255)"/></linearGradient>
<filter id="b50" color-interpolation-filters="sRGB" filterUnits="userSpaceOnUse" x="1074.4" y="675.7" width="846.6" height="587.1"><feGaussianBlur stdDeviation="1.2 1.2"/></filter>
<linearGradient id="md25" gradientUnits="userSpaceOnUse" spreadMethod="repeat" x1="0" y1="936" x2="0" y2="962"><stop offset="0" stop-color="#000" stop-opacity="0"/><stop offset="0.5" stop-color="#000" stop-opacity="0.055"/><stop offset="1" stop-color="#000" stop-opacity="0"/></linearGradient>
<filter id="b51" color-interpolation-filters="sRGB" filterUnits="userSpaceOnUse" x="1074.4" y="675.7" width="846.6" height="587.1"><feGaussianBlur stdDeviation="0 1.5"/></filter>
<clipPath id="c12"><rect x="1144.4" y="745.7" width="706.6" height="447.1"/></clipPath>
<pattern id="st26" patternUnits="userSpaceOnUse" x="0" y="745.7" width="8" height="2.5"><rect x="0" y="0" width="8" height="1.25" fill="#000" fill-opacity="0.045"/></pattern>
</defs>
<rect x="0" y="0" width="1970" height="1376" fill="#fff"/>
<g clip-path="url(#c3)"><g filter="url(#jet)" style="isolation:isolate"><rect x="62" y="-28" width="856" height="592" fill="rgb(0,0,0)"/>
<g filter="url(#b0)" style="mix-blend-mode:lighten"><rect x="62" y="-28" width="856" height="592" fill="#000"/><rect x="222" y="20" width="251" height="118" fill="rgb(13,13,13)"/></g>
<g filter="url(#b1)" style="mix-blend-mode:lighten"><rect x="62" y="-28" width="856" height="592" fill="#000"/><rect x="242" y="20" width="83" height="85" fill="rgb(19,19,19)"/></g>
<g filter="url(#b2)" style="mix-blend-mode:lighten"><rect x="62" y="-28" width="856" height="592" fill="#000"/><rect x="385" y="20" width="89" height="115" fill="rgb(22,22,22)"/></g>
<g filter="url(#b3)" style="mix-blend-mode:lighten"><rect x="62" y="-28" width="856" height="592" fill="#000"/><rect x="395" y="85" width="77" height="47" fill="rgb(28,28,28)"/></g>
<g filter="url(#b4)" style="mix-blend-mode:lighten"><rect x="62" y="-28" width="856" height="592" fill="#000"/><path d="M408 120 C445 126 470 133 500 143 L552 156" fill="none" stroke="rgb(43,43,43)" stroke-width="18" stroke-linecap="butt" stroke-linejoin="round"/></g>
<g filter="url(#b5)" style="mix-blend-mode:lighten"><rect x="62" y="-28" width="856" height="592" fill="#000"/><rect x="482" y="146" width="84" height="22" fill="rgb(56,56,56)"/></g>
<g filter="url(#b6)" style="mix-blend-mode:lighten"><rect x="62" y="-28" width="856" height="592" fill="#000"/><rect x="577" y="110" width="84" height="14" fill="rgb(36,36,36)"/></g>
<g filter="url(#b7)" style="mix-blend-mode:lighten"><rect x="62" y="-28" width="856" height="592" fill="#000"/><rect x="566" y="124" width="102" height="26" fill="rgb(20,20,20)"/></g>
<g filter="url(#b8)" style="mix-blend-mode:lighten"><rect x="62" y="-28" width="856" height="592" fill="#000"/><rect x="610" y="158" width="260" height="8" fill="rgb(26,26,26)"/></g>
<g style="mix-blend-mode:lighten" clip-path="url(#c1)"><g filter="url(#b9)" style="mix-blend-mode:lighten"><rect x="62" y="-28" width="856" height="592" fill="#000"/><rect x="476" y="150" width="96" height="350" fill="rgb(23,23,23)"/></g></g>
<g style="mix-blend-mode:lighten" clip-path="url(#c1)"><g filter="url(#b10)" style="mix-blend-mode:lighten"><rect x="62" y="-28" width="856" height="592" fill="#000"/><rect x="489" y="140" width="68" height="210" fill="rgb(71,71,71)"/></g></g>
<g filter="url(#b11)" style="mix-blend-mode:lighten"><rect x="62" y="-28" width="856" height="592" fill="#000"/><rect x="490" y="415" width="70" height="105" fill="rgb(31,31,31)"/></g>
<g filter="url(#b12)" style="mix-blend-mode:lighten"><rect x="62" y="-28" width="856" height="592" fill="#000"/><g style="isolation:isolate"><rect x="464.5" y="313" width="124" height="130" fill="url(#gx1)"/><rect x="464.5" y="313" width="124" height="130" fill="url(#gy1)" style="mix-blend-mode:multiply"/></g></g>
<g filter="url(#b4)" style="mix-blend-mode:lighten"><rect x="62" y="-28" width="856" height="592" fill="#000"/><rect x="580" y="305" width="72" height="63" fill="rgb(38,38,38)"/></g>
<g filter="url(#b4)" style="mix-blend-mode:lighten"><rect x="62" y="-28" width="856" height="592" fill="#000"/><rect x="580" y="388" width="72" height="67" fill="rgb(38,38,38)"/></g>
<g filter="url(#b13)" style="mix-blend-mode:lighten"><rect x="62" y="-28" width="856" height="592" fill="#000"/><rect x="587" y="319" width="59" height="36" rx="10" fill="rgb(105,105,105)"/></g>
<g filter="url(#b13)" style="mix-blend-mode:lighten"><rect x="62" y="-28" width="856" height="592" fill="#000"/><rect x="587" y="402" width="59" height="38" rx="10" fill="rgb(105,105,105)"/></g>
<g filter="url(#b14)" style="mix-blend-mode:lighten"><rect x="62" y="-28" width="856" height="592" fill="#000"/><rect x="662" y="340" width="90" height="75" fill="rgb(36,36,36)"/></g>
<g style="mix-blend-mode:lighten" clip-path="url(#c2)"><g filter="url(#b12)" style="mix-blend-mode:lighten"><rect x="62" y="-28" width="856" height="592" fill="#000"/><g style="isolation:isolate"><rect x="652" y="120" width="123" height="258" fill="url(#gx2)"/><rect x="652" y="120" width="123" height="258" fill="url(#gy2)" style="mix-blend-mode:multiply"/></g></g></g>
<g filter="url(#b12)" style="mix-blend-mode:lighten"><rect x="62" y="-28" width="856" height="592" fill="#000"/><g style="isolation:isolate"><rect x="652" y="393" width="123" height="147" fill="url(#gx3)"/><rect x="652" y="393" width="123" height="147" fill="url(#gy3)" style="mix-blend-mode:multiply"/></g></g>
<g filter="url(#b15)"><rect x="655" y="166" width="105" height="328" fill="url(#md4)"/></g>
<rect x="480" y="330" width="95" height="100" fill="url(#md5)"/>
<rect x="132" y="42" width="716" height="452" fill="url(#st6)"/>
</g></g>
<path d="M145.70 493.70 v-14.00 M164.55 493.70 v-6.50 M183.40 493.70 v-6.50 M202.25 493.70 v-6.50 M221.10 493.70 v-6.50 M239.95 493.70 v-14.00 M258.80 493.70 v-6.50 M277.65 493.70 v-6.50 M296.50 493.70 v-6.50 M315.35 493.70 v-6.50 M334.20 493.70 v-14.00 M353.05 493.70 v-6.50 M371.90 493.70 v-6.50 M390.75 493.70 v-6.50 M409.60 493.70 v-6.50 M428.45 493.70 v-14.00 M447.30 493.70 v-6.50 M466.15 493.70 v-6.50 M485.00 493.70 v-6.50 M503.85 493.70 v-6.50 M522.70 493.70 v-14.00 M541.55 493.70 v-6.50 M560.40 493.70 v-6.50 M579.25 493.70 v-6.50 M598.10 493.70 v-6.50 M616.95 493.70 v-14.00 M635.80 493.70 v-6.50 M654.65 493.70 v-6.50 M673.50 493.70 v-6.50 M692.35 493.70 v-6.50 M711.20 493.70 v-14.00 M730.05 493.70 v-6.50 M748.90 493.70 v-6.50 M767.75 493.70 v-6.50 M786.60 493.70 v-6.50 M805.45 493.70 v-14.00 M824.30 493.70 v-6.50 M843.15 493.70 v-6.50" stroke="#000" stroke-opacity="0.75" stroke-width="1.3" fill="none"/>
<rect x="130.30" y="31.50" width="1.80" height="463.10" fill="#000"/>
<rect x="130.30" y="492.80" width="726.70" height="1.80" fill="#000"/>
<path d="M131.20 7.00 L140.40 32.50 L122.00 32.50 Z" fill="#000"/>
<path d="M881.00 493.70 L857.00 484.50 L857.00 502.90 Z" fill="#000"/>
<text font-family='"Liberation Sans", sans-serif' font-weight="bold" fill="#000"><tspan x="5.14" y="54.25" font-size="54.65">x10</tspan><tspan x="99.16" y="32.42" font-size="37.75" textLength="18.76" lengthAdjust="spacingAndGlyphs">3</tspan></text>
<text font-family='"Liberation Sans", sans-serif' font-weight="bold" fill="#000"><tspan x="851.95" y="557.85" font-size="55.49">x10</tspan><tspan x="944.53" y="536.93" font-size="37.04" textLength="19.33" lengthAdjust="spacingAndGlyphs">3</tspan></text>
<text x="105.38" y="133.14" font-family='"Liberation Sans", sans-serif' font-weight="bold" font-size="37.50" fill="#000">3</text>
<text x="102.19" y="296.84" font-family='"Liberation Sans", sans-serif' font-weight="bold" font-size="37.50" fill="#000">1</text>
<text x="93.38" y="464.04" font-family='"Liberation Sans", sans-serif' font-weight="bold" font-size="37.50" fill="#000">-1</text>
<text x="102.57" y="530.49" font-family='"Liberation Sans", sans-serif' font-weight="bold" font-size="37.50" fill="#000">-2.5</text>
<text x="202.11" y="530.49" font-family='"Liberation Sans", sans-serif' font-weight="bold" font-size="37.50" fill="#000">-2.0</text>
<text x="295.57" y="530.30" font-family='"Liberation Sans", sans-serif' font-weight="bold" font-size="37.50" fill="#000">-1.5</text>
<text x="390.01" y="530.49" font-family='"Liberation Sans", sans-serif' font-weight="bold" font-size="37.50" fill="#000">-1.0</text>
<text x="482.97" y="530.49" font-family='"Liberation Sans", sans-serif' font-weight="bold" font-size="37.50" fill="#000">-0.5</text>
<text x="590.44" y="530.49" font-family='"Liberation Sans", sans-serif' font-weight="bold" font-size="37.50" fill="#000">0.0</text>
<text x="685.60" y="530.49" font-family='"Liberation Sans", sans-serif' font-weight="bold" font-size="37.50" fill="#000">0.5</text>
<text x="781.32" y="530.49" font-family='"Liberation Sans", sans-serif' font-weight="bold" font-size="37.50" fill="#000">1.0</text>
<text x="0" y="0" transform="translate(76.49 361.17) rotate(-90)" font-family='"Liberation Sans", sans-serif' font-weight="bold" font-size="50.05" fill="#000" textLength="154.12" lengthAdjust="spacingAndGlyphs">y(nm)</text>
<text x="401.05" y="581.82" font-family='"Liberation Sans", sans-serif' font-weight="bold" font-size="49.41" fill="#000" textLength="150.44" lengthAdjust="spacingAndGlyphs">x(nm)</text>
<rect x="866.30" y="60.00" width="17.90" height="416.40" fill="url(#cbar)"/>
<rect x="866.30" y="118.65" width="25.20" height="1.5" fill="#000"/>
<text x="899.50" y="132.64" font-family='"Liberation Sans", sans-serif' font-weight="bold" font-size="37.50" fill="#000">0.8</text>
<rect x="866.30" y="207.90" width="25.20" height="1.5" fill="#000"/>
<text x="899.50" y="223.34" font-family='"Liberation Sans", sans-serif' font-weight="bold" font-size="37.50" fill="#000">0.6</text>
<rect x="866.30" y="297.15" width="25.20" height="1.5" fill="#000"/>
<text x="899.50" y="313.64" font-family='"Liberation Sans", sans-serif' font-weight="bold" font-size="37.50" fill="#000">0.4</text>
<rect x="866.30" y="386.40" width="25.20" height="1.5" fill="#000"/>
<text x="899.50" y="397.44" font-family='"Liberation Sans", sans-serif' font-weight="bold" font-size="37.50" fill="#000">0.2</text>
<rect x="866.30" y="475.65" width="25.20" height="1.5" fill="#000"/>
<text x="899.50" y="485.54" font-family='"Liberation Sans", sans-serif' font-weight="bold" font-size="37.50" fill="#000">0.0</text>
<text x="0" y="0" transform="translate(206.66 159.79) rotate(-90)" font-family='"Liberation Serif", "Noto Serif CJK SC", serif' font-weight="normal" font-size="44.00" fill="#fff">BO=0</text>
<text x="0" y="0" transform="translate(709.21 135.96) rotate(-90)" font-family='"Liberation Serif", "Noto Serif CJK SC", serif' font-weight="normal" font-size="44.00" fill="#fff" textLength="86.59" lengthAdjust="spacingAndGlyphs">Di=0</text>
<text font-family='"Liberation Serif", "Noto Serif CJK SC", serif' fill="#000"><tspan x="414.1" y="672.9" font-size="56.2">（</tspan><tspan x="472.1" y="669.1" font-size="57.5">a</tspan><tspan x="500" y="672.9" font-size="56.2">）</tspan></text>
<g clip-path="url(#c5)"><g filter="url(#jet)" style="isolation:isolate"><rect x="1076.8" y="-29.6" width="842.2" height="583.1" fill="rgb(3,3,3)"/>
<g filter="url(#b16)" style="mix-blend-mode:lighten"><rect x="1076.8" y="-29.6" width="842.2" height="583.1" fill="#000"/><g style="isolation:isolate"><rect x="1213" y="46" width="82" height="118" fill="url(#gx7)"/><rect x="1213" y="46" width="82" height="118" fill="url(#gy7)" style="mix-blend-mode:multiply"/></g></g>
<g filter="url(#b17)" style="mix-blend-mode:lighten"><rect x="1076.8" y="-29.6" width="842.2" height="583.1" fill="#000"/><rect x="1297" y="60" width="68" height="90" fill="rgb(20,20,20)"/></g>
<g filter="url(#b18)" style="mix-blend-mode:lighten"><rect x="1076.8" y="-29.6" width="842.2" height="583.1" fill="#000"/><rect x="1305" y="82" width="55" height="6" fill="rgb(33,33,33)"/></g>
<g filter="url(#b18)" style="mix-blend-mode:lighten"><rect x="1076.8" y="-29.6" width="842.2" height="583.1" fill="#000"/><rect x="1305" y="100" width="55" height="6" fill="rgb(33,33,33)"/></g>
<g filter="url(#b18)" style="mix-blend-mode:lighten"><rect x="1076.8" y="-29.6" width="842.2" height="583.1" fill="#000"/><rect x="1305" y="118" width="55" height="6" fill="rgb(31,31,31)"/></g>
<g filter="url(#b16)" style="mix-blend-mode:lighten"><rect x="1076.8" y="-29.6" width="842.2" height="583.1" fill="#000"/><g style="isolation:isolate"><rect x="1368" y="46" width="84" height="129" fill="url(#gx8)"/><rect x="1368" y="46" width="84" height="129" fill="url(#gy8)" style="mix-blend-mode:multiply"/></g></g>
<g filter="url(#b19)" style="mix-blend-mode:lighten"><rect x="1076.8" y="-29.6" width="842.2" height="583.1" fill="#000"/><path d="M1380 164.5 L1440 167.5 L1500 173.5 L1560 177 L1590 177 L1640 174 L1694 167.5 L1756 163.5 L1777 162.5" fill="none" stroke="rgb(99,99,99)" stroke-width="5" stroke-linecap="butt" stroke-linejoin="round"/></g>
<g filter="url(#b16)" style="mix-blend-mode:lighten"><rect x="1076.8" y="-29.6" width="842.2" height="583.1" fill="#000"/><g style="isolation:isolate"><rect x="1690" y="46" width="91" height="123" fill="url(#gx9)"/><rect x="1690" y="46" width="91" height="123" fill="url(#gy9)" style="mix-blend-mode:multiply"/></g></g>
<g filter="url(#b20)" style="mix-blend-mode:lighten"><rect x="1076.8" y="-29.6" width="842.2" height="583.1" fill="#000"/><rect x="1533" y="395" width="77" height="125" fill="rgb(36,36,36)"/></g>
<g filter="url(#b16)" style="mix-blend-mode:lighten"><rect x="1076.8" y="-29.6" width="842.2" height="583.1" fill="#000"/><g style="isolation:isolate"><rect x="1527" y="178.5" width="93" height="246.5" fill="url(#gx10)"/><rect x="1527" y="178.5" width="93" height="246.5" fill="url(#gy10)" style="mix-blend-mode:multiply"/></g></g>
<g filter="url(#b16)" style="mix-blend-mode:lighten"><rect x="1076.8" y="-29.6" width="842.2" height="583.1" fill="#000"/><g style="isolation:isolate"><rect x="1533.6" y="252" width="84" height="160" fill="url(#gx11)"/><rect x="1533.6" y="252" width="84" height="160" fill="url(#gy11)" style="mix-blend-mode:multiply"/></g></g>
<g filter="url(#b21)" style="mix-blend-mode:lighten"><rect x="1076.8" y="-29.6" width="842.2" height="583.1" fill="#000"/><rect x="1622" y="215" width="56" height="107" fill="rgb(54,54,54)"/></g>
<g filter="url(#b20)" style="mix-blend-mode:lighten"><rect x="1076.8" y="-29.6" width="842.2" height="583.1" fill="#000"/><rect x="1622" y="360" width="56" height="80" fill="rgb(33,33,33)"/></g>
<g filter="url(#b20)" style="mix-blend-mode:lighten"><rect x="1076.8" y="-29.6" width="842.2" height="583.1" fill="#000"/><rect x="1622" y="470" width="56" height="50" fill="rgb(26,26,26)"/></g>
<g filter="url(#b22)" style="mix-blend-mode:lighten"><rect x="1076.8" y="-29.6" width="842.2" height="583.1" fill="#000"/><rect x="1625" y="372" width="50" height="52" rx="12" fill="rgb(122,122,122)"/></g>
<g filter="url(#b23)" style="mix-blend-mode:lighten"><rect x="1076.8" y="-29.6" width="842.2" height="583.1" fill="#000"/><rect x="1684" y="221" width="93" height="154.5" fill="rgb(59,59,59)"/></g>
<g filter="url(#b24)" style="mix-blend-mode:lighten"><rect x="1076.8" y="-29.6" width="842.2" height="583.1" fill="#000"/><rect x="1766" y="370" width="11" height="150" fill="rgb(36,36,36)"/></g>
<g filter="url(#b25)" style="mix-blend-mode:lighten"><rect x="1076.8" y="-29.6" width="842.2" height="583.1" fill="#000"/><rect x="1776" y="216" width="84" height="7" fill="rgb(23,23,23)"/></g>
<g style="mix-blend-mode:lighten" clip-path="url(#c4)"><g filter="url(#b19)" style="mix-blend-mode:lighten"><rect x="1076.8" y="-29.6" width="842.2" height="583.1" fill="#000"/><rect x="1692" y="370" width="74" height="170" fill="rgb(97,97,97)"/></g></g>
<g filter="url(#b26)" style="mix-blend-mode:lighten"><rect x="1076.8" y="-29.6" width="842.2" height="583.1" fill="#000"/><g style="isolation:isolate"><rect x="1689" y="375.5" width="80" height="124.5" fill="url(#gx12)"/><rect x="1689" y="375.5" width="80" height="124.5" fill="url(#gy12)" style="mix-blend-mode:multiply"/></g></g>
<rect x="1146.8" y="40.4" width="702.2" height="443.1" fill="url(#st13)"/>
</g></g>
<path d="M1150.10 483.50 v-6.50 M1166.25 483.50 v-14.00 M1182.40 483.50 v-6.50 M1198.55 483.50 v-6.50 M1214.70 483.50 v-6.50 M1230.85 483.50 v-6.50 M1247.00 483.50 v-14.00 M1263.15 483.50 v-6.50 M1279.30 483.50 v-6.50 M1295.45 483.50 v-6.50 M1311.60 483.50 v-6.50 M1327.75 483.50 v-14.00 M1343.90 483.50 v-6.50 M1360.05 483.50 v-6.50 M1376.20 483.50 v-6.50 M1392.35 483.50 v-6.50 M1408.50 483.50 v-14.00 M1424.65 483.50 v-6.50 M1440.80 483.50 v-6.50 M1456.95 483.50 v-6.50 M1473.10 483.50 v-6.50 M1489.25 483.50 v-14.00 M1505.40 483.50 v-6.50 M1521.55 483.50 v-6.50 M1537.70 483.50 v-6.50 M1553.85 483.50 v-6.50 M1570.00 483.50 v-14.00 M1586.15 483.50 v-6.50 M1602.30 483.50 v-6.50 M1618.45 483.50 v-6.50 M1634.60 483.50 v-6.50 M1650.75 483.50 v-14.00 M1666.90 483.50 v-6.50 M1683.05 483.50 v-6.50 M1699.20 483.50 v-6.50 M1715.35 483.50 v-6.50 M1731.50 483.50 v-14.00 M1747.65 483.50 v-6.50 M1763.80 483.50 v-6.50 M1779.95 483.50 v-6.50 M1796.10 483.50 v-6.50 M1812.25 483.50 v-14.00 M1828.40 483.50 v-6.50 M1844.55 483.50 v-6.50" stroke="#000" stroke-opacity="0.75" stroke-width="1.3" fill="none"/>
<rect x="1144.90" y="29.50" width="1.80" height="454.90" fill="#000"/>
<rect x="1144.90" y="482.60" width="710.10" height="1.80" fill="#000"/>
<path d="M1145.80 6.50 L1155.00 30.50 L1136.60 30.50 Z" fill="#000"/>
<path d="M1880.00 483.50 L1855.00 474.30 L1855.00 492.70 Z" fill="#000"/>
<text font-family='"Liberation Sans", sans-serif' font-weight="bold" fill="#000"><tspan x="1023.07" y="52.36" font-size="53.80" textLength="87.65" lengthAdjust="spacingAndGlyphs">x10</tspan><tspan x="1113.88" y="31.23" font-size="36.76" textLength="18.31" lengthAdjust="spacingAndGlyphs">3</tspan></text>
<text font-family='"Liberation Sans", sans-serif' font-weight="bold" fill="#000"><tspan x="1852.25" y="545.88" font-size="51.83" textLength="91.97" lengthAdjust="spacingAndGlyphs">x10</tspan><tspan x="1943.45" y="525.95" font-size="34.51" textLength="18.88" lengthAdjust="spacingAndGlyphs">3</tspan></text>
<text x="1120.23" y="129.89" font-family='"Liberation Sans", sans-serif' font-weight="bold" font-size="37.50" fill="#000">3</text>
<text x="1117.29" y="291.39" font-family='"Liberation Sans", sans-serif' font-weight="bold" font-size="37.50" fill="#000">1</text>
<text x="1108.53" y="455.04" font-family='"Liberation Sans", sans-serif' font-weight="bold" font-size="37.50" fill="#000">-1</text>
<text x="1117.17" y="519.89" font-family='"Liberation Sans", sans-serif' font-weight="bold" font-size="37.50" fill="#000">-2.5</text>
<text x="1215.06" y="519.89" font-family='"Liberation Sans", sans-serif' font-weight="bold" font-size="37.50" fill="#000">-2.0</text>
<text x="1305.92" y="519.70" font-family='"Liberation Sans", sans-serif' font-weight="bold" font-size="37.50" fill="#000">-1.5</text>
<text x="1398.76" y="519.89" font-family='"Liberation Sans", sans-serif' font-weight="bold" font-size="37.50" fill="#000">-1.0</text>
<text x="1490.22" y="519.89" font-family='"Liberation Sans", sans-serif' font-weight="bold" font-size="37.50" fill="#000">-0.5</text>
<text x="1595.49" y="519.89" font-family='"Liberation Sans", sans-serif' font-weight="bold" font-size="37.50" fill="#000">0.0</text>
<text x="1688.00" y="519.89" font-family='"Liberation Sans", sans-serif' font-weight="bold" font-size="37.50" fill="#000">0.5</text>
<text x="1782.12" y="519.89" font-family='"Liberation Sans", sans-serif' font-weight="bold" font-size="37.50" fill="#000">1.0</text>
<text x="0" y="0" transform="translate(1091.51 351.15) rotate(-90)" font-family='"Liberation Sans", sans-serif' font-weight="bold" font-size="49.95" fill="#000" textLength="148.70" lengthAdjust="spacingAndGlyphs">y(nm)</text>
<text x="1411.06" y="569.96" font-family='"Liberation Sans", sans-serif' font-weight="bold" font-size="47.81" fill="#000" textLength="146.34" lengthAdjust="spacingAndGlyphs">x(nm)</text>
<rect x="1867.00" y="58.30" width="17.70" height="407.20" fill="url(#cbar)"/>
<rect x="1867.00" y="103.05" width="25.20" height="1.5" fill="#000"/>
<text x="1899.20" y="115.74" font-family='"Liberation Sans", sans-serif' font-weight="bold" font-size="37.50" fill="#000">0.7</text>
<rect x="1867.00" y="206.75" width="25.20" height="1.5" fill="#000"/>
<text x="1899.20" y="220.34" font-family='"Liberation Sans", sans-serif' font-weight="bold" font-size="37.50" fill="#000">0.5</text>
<rect x="1867.00" y="310.45" width="25.20" height="1.5" fill="#000"/>
<text x="1899.20" y="324.94" font-family='"Liberation Sans", sans-serif' font-weight="bold" font-size="37.50" fill="#000">0.3</text>
<rect x="1867.00" y="414.15" width="25.20" height="1.5" fill="#000"/>
<text x="1899.20" y="429.54" font-family='"Liberation Sans", sans-serif' font-weight="bold" font-size="37.50" fill="#000">0.1</text>
<text x="0" y="0" transform="translate(1198.80 151.88) rotate(-90)" font-family='"Liberation Serif", "Noto Serif CJK SC", serif' font-weight="normal" font-size="44.00" fill="#fff" textLength="104.35" lengthAdjust="spacingAndGlyphs">BO=1</text>
<text x="0" y="0" transform="translate(1828.02 142.78) rotate(-90)" font-family='"Liberation Serif", "Noto Serif CJK SC", serif' font-weight="normal" font-size="44.00" fill="#fff" textLength="87.89" lengthAdjust="spacingAndGlyphs">Di=1</text>
<text font-family='"Liberation Serif", "Noto Serif CJK SC", serif' fill="#000"><tspan x="1468.7" y="672.9" font-size="56.2">（</tspan><tspan x="1527.3" y="669.1" font-size="57.5">b</tspan><tspan x="1557.8" y="672.9" font-size="56.2">）</tspan></text>
<g clip-path="url(#c8)"><g filter="url(#jet)" style="isolation:isolate"><rect x="72.6" y="666.3" width="859.4" height="593.7" fill="rgb(0,0,0)"/>
<g filter="url(#b27)" style="mix-blend-mode:lighten"><rect x="72.6" y="666.3" width="859.4" height="593.7" fill="#000"/><g style="isolation:isolate"><rect x="206" y="742" width="89" height="124" fill="url(#gx14)"/><rect x="206" y="742" width="89" height="124" fill="url(#gy14)" style="mix-blend-mode:multiply"/></g></g>
<g filter="url(#b28)" style="mix-blend-mode:lighten"><rect x="72.6" y="666.3" width="859.4" height="593.7" fill="#000"/><rect x="300" y="790" width="65" height="60" fill="rgb(13,13,13)"/></g>
<g filter="url(#b27)" style="mix-blend-mode:lighten"><rect x="72.6" y="666.3" width="859.4" height="593.7" fill="#000"/><g style="isolation:isolate"><rect x="366" y="742" width="90" height="133" fill="url(#gx15)"/><rect x="366" y="742" width="90" height="133" fill="url(#gy15)" style="mix-blend-mode:multiply"/></g></g>
<g filter="url(#b29)" style="mix-blend-mode:lighten"><rect x="72.6" y="666.3" width="859.4" height="593.7" fill="#000"/><path d="M377 863 L440 867.5 L510 873 L570 876.8 L600 876.8 L650 873.5 L705 867.5 L766 862.5 L789 861" fill="none" stroke="rgb(99,99,99)" stroke-width="5" stroke-linecap="butt" stroke-linejoin="round"/></g>
<g filter="url(#b27)" style="mix-blend-mode:lighten"><rect x="72.6" y="666.3" width="859.4" height="593.7" fill="#000"/><g style="isolation:isolate"><rect x="699" y="742" width="93" height="125" fill="url(#gx16)"/><rect x="699" y="742" width="93" height="125" fill="url(#gy16)" style="mix-blend-mode:multiply"/></g></g>
<g style="mix-blend-mode:lighten" clip-path="url(#c6)"><g filter="url(#b30)" style="mix-blend-mode:lighten"><rect x="72.6" y="666.3" width="859.4" height="593.7" fill="#000"/><rect x="539" y="850" width="78" height="370" fill="rgb(48,48,48)"/></g></g>
<g filter="url(#b27)" style="mix-blend-mode:lighten"><rect x="72.6" y="666.3" width="859.4" height="593.7" fill="#000"/><g style="isolation:isolate"><rect x="531" y="878" width="97" height="322" fill="url(#gx17)"/><rect x="531" y="878" width="97" height="322" fill="url(#gy17)" style="mix-blend-mode:multiply"/></g></g>
<g filter="url(#b31)" style="mix-blend-mode:lighten"><rect x="72.6" y="666.3" width="859.4" height="593.7" fill="#000"/><rect x="630" y="928" width="56" height="90" fill="rgb(38,38,38)"/></g>
<g filter="url(#b32)" style="mix-blend-mode:lighten"><rect x="72.6" y="666.3" width="859.4" height="593.7" fill="#000"/><rect x="633" y="970" width="51" height="27" rx="8" fill="rgb(84,84,84)"/></g>
<g filter="url(#b33)" style="mix-blend-mode:lighten"><rect x="72.6" y="666.3" width="859.4" height="593.7" fill="#000"/><rect x="630" y="1054" width="56" height="96" fill="rgb(38,38,38)"/></g>
<g filter="url(#b34)" style="mix-blend-mode:lighten"><rect x="72.6" y="666.3" width="859.4" height="593.7" fill="#000"/><rect x="634" y="1121" width="50" height="15" rx="6" fill="rgb(64,64,64)"/></g>
<g filter="url(#b35)" style="mix-blend-mode:lighten"><rect x="72.6" y="666.3" width="859.4" height="593.7" fill="#000"/><rect x="784" y="918" width="96" height="7" fill="rgb(23,23,23)"/></g>
<g style="mix-blend-mode:lighten" clip-path="url(#c7)"><g filter="url(#b29)" style="mix-blend-mode:lighten"><rect x="72.6" y="666.3" width="859.4" height="593.7" fill="#000"/><rect x="697.5" y="900" width="84" height="320" fill="rgb(92,92,92)"/></g></g>
<g filter="url(#b36)" style="mix-blend-mode:lighten"><rect x="72.6" y="666.3" width="859.4" height="593.7" fill="#000"/><rect x="785" y="925" width="7" height="295" fill="rgb(26,26,26)"/></g>
<g style="mix-blend-mode:lighten" clip-path="url(#c7)"><g filter="url(#b36)" style="mix-blend-mode:lighten"><rect x="72.6" y="666.3" width="859.4" height="593.7" fill="#000"/><rect x="703.5" y="900" width="72" height="320" fill="rgb(102,102,102)"/></g></g>
<g filter="url(#b37)" style="mix-blend-mode:lighten"><rect x="72.6" y="666.3" width="859.4" height="593.7" fill="#000"/><g style="isolation:isolate"><rect x="700" y="923" width="78" height="277" fill="url(#gx18)"/><rect x="700" y="923" width="78" height="277" fill="url(#gy18)" style="mix-blend-mode:multiply"/></g></g>
<g filter="url(#b38)"><rect x="535" y="960" width="90" height="190" fill="url(#md19)"/></g>
<rect x="142.6" y="736.3" width="719.4" height="453.7" fill="url(#st20)"/>
</g></g>
<path d="M146.90 1189.70 v-6.50 M163.40 1189.70 v-14.00 M179.90 1189.70 v-6.50 M196.40 1189.70 v-6.50 M212.90 1189.70 v-6.50 M229.40 1189.70 v-6.50 M245.90 1189.70 v-14.00 M262.40 1189.70 v-6.50 M278.90 1189.70 v-6.50 M295.40 1189.70 v-6.50 M311.90 1189.70 v-6.50 M328.40 1189.70 v-14.00 M344.90 1189.70 v-6.50 M361.40 1189.70 v-6.50 M377.90 1189.70 v-6.50 M394.40 1189.70 v-6.50 M410.90 1189.70 v-14.00 M427.40 1189.70 v-6.50 M443.90 1189.70 v-6.50 M460.40 1189.70 v-6.50 M476.90 1189.70 v-6.50 M493.40 1189.70 v-14.00 M509.90 1189.70 v-6.50 M526.40 1189.70 v-6.50 M542.90 1189.70 v-6.50 M559.40 1189.70 v-6.50 M575.90 1189.70 v-14.00 M592.40 1189.70 v-6.50 M608.90 1189.70 v-6.50 M625.40 1189.70 v-6.50 M641.90 1189.70 v-6.50 M658.40 1189.70 v-14.00 M674.90 1189.70 v-6.50 M691.40 1189.70 v-6.50 M707.90 1189.70 v-6.50 M724.40 1189.70 v-6.50 M740.90 1189.70 v-14.00 M757.40 1189.70 v-6.50 M773.90 1189.70 v-6.50 M790.40 1189.70 v-6.50 M806.90 1189.70 v-6.50 M823.40 1189.70 v-14.00 M839.90 1189.70 v-6.50 M856.40 1189.70 v-6.50" stroke="#000" stroke-opacity="0.75" stroke-width="1.3" fill="none"/>
<rect x="140.90" y="725.00" width="1.80" height="465.60" fill="#000"/>
<rect x="140.90" y="1188.80" width="730.60" height="1.80" fill="#000"/>
<path d="M141.80 700.90 L151.00 726.00 L132.60 726.00 Z" fill="#000"/>
<path d="M895.70 1189.70 L871.50 1180.50 L871.50 1198.90 Z" fill="#000"/>
<text font-family='"Liberation Sans", sans-serif' font-weight="bold" fill="#000"><tspan x="15.24" y="748.35" font-size="54.51" textLength="93.21" lengthAdjust="spacingAndGlyphs">x10</tspan><tspan x="109.88" y="726.12" font-size="37.61" textLength="18.31" lengthAdjust="spacingAndGlyphs">3</tspan></text>
<text font-family='"Liberation Sans", sans-serif' font-weight="bold" fill="#000"><tspan x="866.64" y="1254.26" font-size="53.52" textLength="93.21" lengthAdjust="spacingAndGlyphs">x10</tspan><tspan x="959.00" y="1234.35" font-size="34.79" textLength="20.11" lengthAdjust="spacingAndGlyphs">3</tspan></text>
<text x="116.23" y="827.24" font-family='"Liberation Sans", sans-serif' font-weight="bold" font-size="37.50" fill="#000">3</text>
<text x="113.24" y="992.89" font-family='"Liberation Sans", sans-serif' font-weight="bold" font-size="37.50" fill="#000">1</text>
<text x="103.38" y="1161.19" font-family='"Liberation Sans", sans-serif' font-weight="bold" font-size="37.50" fill="#000">-1</text>
<text x="113.22" y="1227.24" font-family='"Liberation Sans", sans-serif' font-weight="bold" font-size="37.50" fill="#000">-2.5</text>
<text x="212.86" y="1227.24" font-family='"Liberation Sans", sans-serif' font-weight="bold" font-size="37.50" fill="#000">-2.0</text>
<text x="305.92" y="1227.05" font-family='"Liberation Sans", sans-serif' font-weight="bold" font-size="37.50" fill="#000">-1.5</text>
<text x="401.61" y="1227.24" font-family='"Liberation Sans", sans-serif' font-weight="bold" font-size="37.50" fill="#000">-1.0</text>
<text x="496.32" y="1227.24" font-family='"Liberation Sans", sans-serif' font-weight="bold" font-size="37.50" fill="#000">-0.5</text>
<text x="602.19" y="1227.24" font-family='"Liberation Sans", sans-serif' font-weight="bold" font-size="37.50" fill="#000">0.0</text>
<text x="698.00" y="1227.24" font-family='"Liberation Sans", sans-serif' font-weight="bold" font-size="37.50" fill="#000">0.5</text>
<text x="795.47" y="1227.24" font-family='"Liberation Sans", sans-serif' font-weight="bold" font-size="37.50" fill="#000">1.0</text>
<text x="0" y="0" transform="translate(86.49 1053.25) rotate(-90)" font-family='"Liberation Sans", sans-serif' font-weight="bold" font-size="50.05" fill="#000" textLength="150.85" lengthAdjust="spacingAndGlyphs">y(nm)</text>
<text x="414.45" y="1279.11" font-family='"Liberation Sans", sans-serif' font-weight="bold" font-size="48.98" fill="#000" textLength="150.74" lengthAdjust="spacingAndGlyphs">x(nm)</text>
<rect x="881.00" y="753.00" width="18.00" height="420.30" fill="url(#cbar)"/>
<rect x="881.00" y="752.25" width="25.20" height="1.5" fill="#000"/>
<text x="910.60" y="766.74" font-family='"Liberation Sans", sans-serif' font-weight="bold" font-size="37.50" fill="#000">0.8</text>
<rect x="881.00" y="857.25" width="25.20" height="1.5" fill="#000"/>
<text x="910.60" y="871.21" font-family='"Liberation Sans", sans-serif' font-weight="bold" font-size="37.50" fill="#000">0.6</text>
<rect x="881.00" y="962.25" width="25.20" height="1.5" fill="#000"/>
<text x="910.60" y="975.69" font-family='"Liberation Sans", sans-serif' font-weight="bold" font-size="37.50" fill="#000">0.4</text>
<rect x="881.00" y="1067.25" width="25.20" height="1.5" fill="#000"/>
<text x="910.60" y="1080.16" font-family='"Liberation Sans", sans-serif' font-weight="bold" font-size="37.50" fill="#000">0.2</text>
<rect x="881.00" y="1172.25" width="25.20" height="1.5" fill="#000"/>
<text x="910.60" y="1184.64" font-family='"Liberation Sans", sans-serif' font-weight="bold" font-size="37.50" fill="#000">0.0</text>
<text x="0" y="0" transform="translate(198.61 845.30) rotate(-90)" font-family='"Liberation Serif", "Noto Serif CJK SC", serif' font-weight="normal" font-size="44.00" fill="#fff" textLength="105.94" lengthAdjust="spacingAndGlyphs">BO=0</text>
<text x="0" y="0" transform="translate(828.37 835.25) rotate(-90)" font-family='"Liberation Serif", "Noto Serif CJK SC", serif' font-weight="normal" font-size="44.00" fill="#fff" textLength="85.69" lengthAdjust="spacingAndGlyphs">Di=1</text>
<text font-family='"Liberation Serif", "Noto Serif CJK SC", serif' fill="#000"><tspan x="430.1" y="1368.1" font-size="56.2">（</tspan><tspan x="488.1" y="1364" font-size="57.5">c</tspan><tspan x="516" y="1368.1" font-size="56.2">）</tspan></text>
<g clip-path="url(#c12)"><g filter="url(#jet)" style="isolation:isolate"><rect x="1074.4" y="675.7" width="846.6" height="587.1" fill="rgb(0,0,0)"/>
<g style="mix-blend-mode:lighten" clip-path="url(#c9)"><g filter="url(#b39)" style="mix-blend-mode:lighten"><rect x="1074.4" y="675.7" width="846.6" height="587.1" fill="#000"/><rect x="1214" y="730" width="65" height="138" fill="rgb(20,20,20)"/></g></g>
<g filter="url(#b40)" style="mix-blend-mode:lighten"><rect x="1074.4" y="675.7" width="846.6" height="587.1" fill="#000"/><rect x="1290" y="770" width="80" height="95" fill="rgb(10,10,10)"/></g>
<g filter="url(#b41)" style="mix-blend-mode:lighten"><rect x="1074.4" y="675.7" width="846.6" height="587.1" fill="#000"/><g style="isolation:isolate"><rect x="1369" y="751" width="85" height="133" fill="url(#gx21)"/><rect x="1369" y="751" width="85" height="133" fill="url(#gy21)" style="mix-blend-mode:multiply"/></g></g>
<g filter="url(#b42)" style="mix-blend-mode:lighten"><rect x="1074.4" y="675.7" width="846.6" height="587.1" fill="#000"/><path d="M1380 871.5 L1440 875.5 L1500 880 L1560 883 L1590 883 L1640 880.5 L1694 876 L1765 871.5 L1777 871" fill="none" stroke="rgb(64,64,64)" stroke-width="5" stroke-linecap="butt" stroke-linejoin="round"/></g>
<g filter="url(#b41)" style="mix-blend-mode:lighten"><rect x="1074.4" y="675.7" width="846.6" height="587.1" fill="#000"/><g style="isolation:isolate"><rect x="1690" y="751" width="88" height="126" fill="url(#gx22)"/><rect x="1690" y="751" width="88" height="126" fill="url(#gy22)" style="mix-blend-mode:multiply"/></g></g>
<g style="mix-blend-mode:lighten" clip-path="url(#c10)"><g filter="url(#b43)" style="mix-blend-mode:lighten"><rect x="1074.4" y="675.7" width="846.6" height="587.1" fill="#000"/><rect x="1537" y="860" width="73" height="360" fill="rgb(33,33,33)"/></g></g>
<g filter="url(#b41)" style="mix-blend-mode:lighten"><rect x="1074.4" y="675.7" width="846.6" height="587.1" fill="#000"/><g style="isolation:isolate"><rect x="1527" y="885" width="90" height="315" fill="url(#gx23)"/><rect x="1527" y="885" width="90" height="315" fill="url(#gy23)" style="mix-blend-mode:multiply"/></g></g>
<g filter="url(#b44)" style="mix-blend-mode:lighten"><rect x="1074.4" y="675.7" width="846.6" height="587.1" fill="#000"/><rect x="1624" y="935" width="53" height="91" fill="rgb(28,28,28)"/></g>
<g filter="url(#b45)" style="mix-blend-mode:lighten"><rect x="1074.4" y="675.7" width="846.6" height="587.1" fill="#000"/><rect x="1624" y="1058" width="53" height="92" fill="rgb(33,33,33)"/></g>
<g filter="url(#b46)" style="mix-blend-mode:lighten"><rect x="1074.4" y="675.7" width="846.6" height="587.1" fill="#000"/><rect x="1628" y="1122" width="47" height="15" rx="6" fill="rgb(56,56,56)"/></g>
<g filter="url(#b47)" style="mix-blend-mode:lighten"><rect x="1074.4" y="675.7" width="846.6" height="587.1" fill="#000"/><rect x="1630" y="1088" width="42" height="9" rx="4" fill="rgb(43,43,43)"/></g>
<g filter="url(#b48)" style="mix-blend-mode:lighten"><rect x="1074.4" y="675.7" width="846.6" height="587.1" fill="#000"/><rect x="1773" y="925" width="97" height="7" fill="rgb(18,18,18)"/></g>
<g style="mix-blend-mode:lighten" clip-path="url(#c11)"><g filter="url(#b42)" style="mix-blend-mode:lighten"><rect x="1074.4" y="675.7" width="846.6" height="587.1" fill="#000"/><rect x="1690.5" y="900" width="81.5" height="320" fill="rgb(76,76,76)"/></g></g>
<g style="mix-blend-mode:lighten" clip-path="url(#c11)"><g filter="url(#b49)" style="mix-blend-mode:lighten"><rect x="1074.4" y="675.7" width="846.6" height="587.1" fill="#000"/><rect x="1696.5" y="900" width="69.5" height="320" fill="rgb(97,97,97)"/></g></g>
<g filter="url(#b50)" style="mix-blend-mode:lighten"><rect x="1074.4" y="675.7" width="846.6" height="587.1" fill="#000"/><g style="isolation:isolate"><rect x="1692" y="929" width="81" height="271" fill="url(#gx24)"/><rect x="1692" y="929" width="81" height="271" fill="url(#gy24)" style="mix-blend-mode:multiply"/></g></g>
<g filter="url(#b51)"><rect x="1692" y="930" width="80" height="262.8" fill="url(#md25)"/></g>
<rect x="1144.4" y="745.7" width="706.6" height="447.1" fill="url(#st26)"/>
</g></g>
<path d="M1148.00 1192.80 v-6.50 M1164.25 1192.80 v-14.00 M1180.50 1192.80 v-6.50 M1196.75 1192.80 v-6.50 M1213.00 1192.80 v-6.50 M1229.25 1192.80 v-6.50 M1245.50 1192.80 v-14.00 M1261.75 1192.80 v-6.50 M1278.00 1192.80 v-6.50 M1294.25 1192.80 v-6.50 M1310.50 1192.80 v-6.50 M1326.75 1192.80 v-14.00 M1343.00 1192.80 v-6.50 M1359.25 1192.80 v-6.50 M1375.50 1192.80 v-6.50 M1391.75 1192.80 v-6.50 M1408.00 1192.80 v-14.00 M1424.25 1192.80 v-6.50 M1440.50 1192.80 v-6.50 M1456.75 1192.80 v-6.50 M1473.00 1192.80 v-6.50 M1489.25 1192.80 v-14.00 M1505.50 1192.80 v-6.50 M1521.75 1192.80 v-6.50 M1538.00 1192.80 v-6.50 M1554.25 1192.80 v-6.50 M1570.50 1192.80 v-14.00 M1586.75 1192.80 v-6.50 M1603.00 1192.80 v-6.50 M1619.25 1192.80 v-6.50 M1635.50 1192.80 v-6.50 M1651.75 1192.80 v-14.00 M1668.00 1192.80 v-6.50 M1684.25 1192.80 v-6.50 M1700.50 1192.80 v-6.50 M1716.75 1192.80 v-6.50 M1733.00 1192.80 v-14.00 M1749.25 1192.80 v-6.50 M1765.50 1192.80 v-6.50 M1781.75 1192.80 v-6.50 M1798.00 1192.80 v-6.50 M1814.25 1192.80 v-14.00 M1830.50 1192.80 v-6.50 M1846.75 1192.80 v-6.50" stroke="#000" stroke-opacity="0.75" stroke-width="1.3" fill="none"/>
<rect x="1142.70" y="734.90" width="1.80" height="458.80" fill="#000"/>
<rect x="1142.70" y="1191.90" width="718.30" height="1.80" fill="#000"/>
<path d="M1143.60 711.40 L1152.80 735.90 L1134.40 735.90 Z" fill="#000"/>
<path d="M1884.00 1192.80 L1861.00 1183.60 L1861.00 1202.00 Z" fill="#000"/>
<text font-family='"Liberation Sans", sans-serif' font-weight="bold" fill="#000"><tspan x="1019.15" y="757.67" font-size="52.96" textLength="90.94" lengthAdjust="spacingAndGlyphs">x10</tspan><tspan x="1111.60" y="735.55" font-size="35.35" textLength="17.75" lengthAdjust="spacingAndGlyphs">3</tspan></text>
<text font-family='"Liberation Sans", sans-serif' font-weight="bold" fill="#000"><tspan x="1855.55" y="1254.97" font-size="53.38" textLength="92.08" lengthAdjust="spacingAndGlyphs">x10</tspan><tspan x="1946.86" y="1232.85" font-size="34.65" textLength="18.76" lengthAdjust="spacingAndGlyphs">3</tspan></text>
<text x="1117.73" y="836.04" font-family='"Liberation Sans", sans-serif' font-weight="bold" font-size="37.50" fill="#000">3</text>
<text x="1115.74" y="998.44" font-family='"Liberation Sans", sans-serif' font-weight="bold" font-size="37.50" fill="#000">1</text>
<text x="1105.47" y="1163.14" font-family='"Liberation Sans", sans-serif' font-weight="bold" font-size="37.50" fill="#000">-1</text>
<text x="1114.37" y="1228.24" font-family='"Liberation Sans", sans-serif' font-weight="bold" font-size="37.50" fill="#000">-2.5</text>
<text x="1212.86" y="1228.24" font-family='"Liberation Sans", sans-serif' font-weight="bold" font-size="37.50" fill="#000">-2.0</text>
<text x="1303.67" y="1228.05" font-family='"Liberation Sans", sans-serif' font-weight="bold" font-size="37.50" fill="#000">-1.5</text>
<text x="1398.76" y="1228.24" font-family='"Liberation Sans", sans-serif' font-weight="bold" font-size="37.50" fill="#000">-1.0</text>
<text x="1490.77" y="1228.24" font-family='"Liberation Sans", sans-serif' font-weight="bold" font-size="37.50" fill="#000">-0.5</text>
<text x="1596.64" y="1228.24" font-family='"Liberation Sans", sans-serif' font-weight="bold" font-size="37.50" fill="#000">0.0</text>
<text x="1690.25" y="1228.24" font-family='"Liberation Sans", sans-serif' font-weight="bold" font-size="37.50" fill="#000">0.5</text>
<text x="1784.92" y="1228.24" font-family='"Liberation Sans", sans-serif' font-weight="bold" font-size="37.50" fill="#000">1.0</text>
<text x="0" y="0" transform="translate(1088.71 1058.24) rotate(-90)" font-family='"Liberation Sans", sans-serif' font-weight="bold" font-size="48.98" fill="#000" textLength="147.78" lengthAdjust="spacingAndGlyphs">y(nm)</text>
<text x="1411.06" y="1278.98" font-family='"Liberation Sans", sans-serif' font-weight="bold" font-size="47.70" fill="#000" textLength="147.47" lengthAdjust="spacingAndGlyphs">x(nm)</text>
<rect x="1870.00" y="764.00" width="17.60" height="411.40" fill="url(#cbar)"/>
<rect x="1870.00" y="771.05" width="24.50" height="1.5" fill="#000"/>
<text x="1898.56" y="783.24" font-family='"Liberation Sans", sans-serif' font-weight="bold" font-size="37.50" fill="#000">1.0</text>
<rect x="1870.00" y="851.65" width="24.50" height="1.5" fill="#000"/>
<text x="1899.50" y="866.24" font-family='"Liberation Sans", sans-serif' font-weight="bold" font-size="37.50" fill="#000">0.8</text>
<rect x="1870.00" y="932.35" width="24.50" height="1.5" fill="#000"/>
<text x="1899.50" y="946.14" font-family='"Liberation Sans", sans-serif' font-weight="bold" font-size="37.50" fill="#000">0.6</text>
<rect x="1870.00" y="1012.95" width="24.50" height="1.5" fill="#000"/>
<text x="1899.50" y="1025.94" font-family='"Liberation Sans", sans-serif' font-weight="bold" font-size="37.50" fill="#000">0.4</text>
<rect x="1870.00" y="1093.65" width="24.50" height="1.5" fill="#000"/>
<text x="1899.50" y="1107.14" font-family='"Liberation Sans", sans-serif' font-weight="bold" font-size="37.50" fill="#000">0.2</text>
<rect x="1870.00" y="1174.25" width="24.50" height="1.5" fill="#000"/>
<text x="1899.50" y="1186.54" font-family='"Liberation Sans", sans-serif' font-weight="bold" font-size="37.50" fill="#000">0.0</text>
<text x="0" y="0" transform="translate(1198.91 871.59) rotate(-90)" font-family='"Liberation Serif", "Noto Serif CJK SC", serif' font-weight="normal" font-size="44.00" fill="#fff">BO=0</text>
<text x="0" y="0" transform="translate(1830.21 862.06) rotate(-90)" font-family='"Liberation Serif", "Noto Serif CJK SC", serif' font-weight="normal" font-size="44.00" fill="#fff">Di=0</text>
<text font-family='"Liberation Serif", "Noto Serif CJK SC", serif' fill="#000"><tspan x="1484.8" y="1368.1" font-size="56.2">（</tspan><tspan x="1542.7" y="1364" font-size="57.5">d</tspan><tspan x="1574.1" y="1368.1" font-size="56.2">）</tspan></text>
</svg>
</body>
</html>
